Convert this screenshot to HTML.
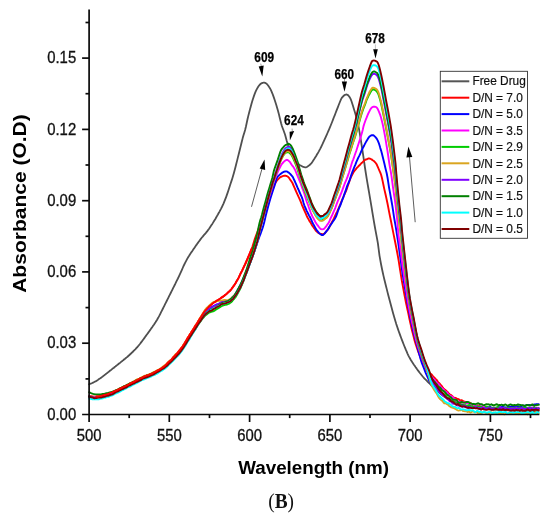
<!DOCTYPE html>
<html lang="en">
<head>
<meta charset="utf-8">
<title>Absorbance spectra (B)</title>
<style>
html,body{margin:0;padding:0;background:#fff;}
body{width:550px;height:522px;overflow:hidden;}
svg text{white-space:pre;}
</style>
</head>
<body>
<svg width="550" height="522" viewBox="0 0 550 522" style="display:block">
<rect width="550" height="522" fill="#fff"/>
<g fill="none" stroke-linejoin="round" stroke-linecap="round">
<path d="M89.1 384.3 L89.9 384.0 L90.7 383.7 L91.5 383.3 L92.3 383.0 L93.1 382.6 L93.9 382.2 L94.7 381.8 L95.5 381.4 L96.3 380.9 L97.1 380.4 L97.9 379.9 L98.7 379.3 L99.5 378.8 L100.3 378.3 L101.1 377.7 L101.9 377.1 L102.7 376.5 L103.5 375.9 L104.3 375.3 L105.1 374.6 L105.9 374.0 L106.7 373.4 L107.5 372.7 L108.3 372.1 L109.1 371.5 L109.9 370.8 L110.7 370.2 L111.5 369.6 L112.3 368.9 L113.1 368.3 L113.9 367.7 L114.7 367.0 L115.5 366.4 L116.3 365.7 L117.1 365.1 L117.9 364.5 L118.7 363.8 L119.5 363.2 L120.3 362.6 L121.1 361.9 L121.9 361.3 L122.7 360.6 L123.5 360.0 L124.3 359.3 L125.1 358.7 L125.9 358.0 L126.7 357.4 L127.5 356.7 L128.3 356.0 L129.1 355.3 L129.9 354.5 L130.7 353.8 L131.5 353.0 L132.3 352.3 L133.1 351.5 L133.9 350.7 L134.7 349.9 L135.5 349.1 L136.3 348.2 L137.1 347.3 L137.9 346.4 L138.7 345.5 L139.5 344.5 L140.3 343.5 L141.1 342.4 L141.9 341.4 L142.7 340.3 L143.5 339.2 L144.3 338.1 L145.1 337.0 L145.9 335.9 L146.7 334.8 L147.5 333.7 L148.3 332.6 L149.1 331.5 L149.9 330.4 L150.7 329.3 L151.5 328.1 L152.3 327.0 L153.1 325.8 L153.9 324.7 L154.7 323.5 L155.5 322.3 L156.3 321.0 L157.1 319.7 L157.9 318.3 L158.7 316.9 L159.5 315.4 L160.3 313.8 L161.1 312.2 L161.9 310.6 L162.7 309.0 L163.5 307.4 L164.3 305.8 L165.1 304.2 L165.9 302.6 L166.7 301.0 L167.5 299.4 L168.3 297.8 L169.1 296.2 L169.9 294.6 L170.7 293.0 L171.5 291.4 L172.3 289.8 L173.1 288.2 L173.9 286.6 L174.7 285.0 L175.5 283.4 L176.3 281.7 L177.1 280.1 L177.9 278.5 L178.7 276.8 L179.5 275.1 L180.3 273.4 L181.1 271.6 L181.9 269.8 L182.7 268.0 L183.5 266.2 L184.3 264.5 L185.1 262.9 L185.9 261.3 L186.7 259.8 L187.5 258.4 L188.3 257.0 L189.1 255.8 L189.9 254.5 L190.7 253.3 L191.5 252.1 L192.3 251.0 L193.1 249.8 L193.9 248.6 L194.7 247.5 L195.5 246.3 L196.3 245.1 L197.1 244.0 L197.9 242.9 L198.7 241.8 L199.5 240.7 L200.3 239.6 L201.1 238.5 L201.9 237.5 L202.7 236.6 L203.5 235.6 L204.3 234.7 L205.1 233.8 L205.9 232.9 L206.7 231.9 L207.5 230.9 L208.3 229.8 L209.1 228.7 L209.9 227.5 L210.7 226.3 L211.5 225.1 L212.3 223.9 L213.1 222.6 L213.9 221.3 L214.7 220.0 L215.5 218.7 L216.3 217.3 L217.1 215.9 L217.9 214.5 L218.7 213.0 L219.5 211.6 L220.3 210.1 L221.1 208.6 L221.9 207.0 L222.7 205.3 L223.5 203.6 L224.3 201.7 L225.1 199.7 L225.9 197.7 L226.7 195.4 L227.5 193.1 L228.3 190.7 L229.1 188.2 L229.9 185.8 L230.7 183.3 L231.5 180.9 L232.3 178.4 L233.1 175.8 L233.9 173.0 L234.7 170.1 L235.5 167.0 L236.3 163.8 L237.1 160.6 L237.9 157.4 L238.7 154.2 L239.5 151.0 L240.3 147.8 L241.1 144.5 L241.9 141.3 L242.7 138.1 L243.5 135.2 L244.3 132.7 L245.1 130.0 L245.9 126.7 L246.7 123.0 L247.5 119.3 L248.3 115.9 L249.1 112.7 L249.9 109.6 L250.7 106.7 L251.5 103.8 L252.3 101.1 L253.1 98.5 L253.9 96.1 L254.7 93.9 L255.5 91.9 L256.3 90.2 L257.1 88.6 L257.9 87.2 L258.7 86.0 L259.5 85.0 L260.3 84.2 L261.1 83.5 L261.9 83.1 L262.7 82.8 L263.5 82.7 L264.3 82.7 L265.1 82.9 L265.9 83.3 L266.7 83.9 L267.5 84.7 L268.3 85.7 L269.1 86.9 L269.9 88.2 L270.7 89.7 L271.5 91.4 L272.3 93.3 L273.1 95.4 L273.9 97.6 L274.7 100.0 L275.5 102.5 L276.3 105.0 L277.1 107.7 L277.9 110.5 L278.7 113.4 L279.5 116.7 L280.3 120.1 L281.1 123.3 L281.9 126.0 L282.7 128.2 L283.5 130.3 L284.3 132.5 L285.1 134.8 L285.9 137.7 L286.7 140.8 L287.5 143.6 L288.3 146.1 L289.1 148.4 L289.9 150.5 L290.7 152.4 L291.5 154.0 L292.3 155.6 L293.1 157.1 L293.9 158.4 L294.7 159.6 L295.5 160.7 L296.3 161.7 L297.1 162.6 L297.9 163.5 L298.7 164.3 L299.5 164.9 L300.3 165.4 L301.1 165.8 L301.9 166.2 L302.7 166.6 L303.5 166.9 L304.3 167.2 L305.1 167.3 L305.9 167.3 L306.7 167.0 L307.5 166.6 L308.3 166.1 L309.1 165.4 L309.9 164.7 L310.7 164.0 L311.5 163.1 L312.3 162.0 L313.1 160.8 L313.9 159.6 L314.7 158.3 L315.5 157.0 L316.3 155.7 L317.1 154.3 L317.9 153.0 L318.7 151.6 L319.5 150.1 L320.3 148.6 L321.1 147.0 L321.9 145.3 L322.7 143.7 L323.5 141.9 L324.3 140.2 L325.1 138.4 L325.9 136.6 L326.7 134.8 L327.5 133.0 L328.3 131.1 L329.1 129.3 L329.9 127.4 L330.7 125.5 L331.5 123.5 L332.3 121.5 L333.1 119.4 L333.9 117.3 L334.7 115.3 L335.5 113.2 L336.3 111.2 L337.1 109.1 L337.9 107.1 L338.7 105.0 L339.5 103.0 L340.3 101.0 L341.1 99.1 L341.9 97.7 L342.7 96.8 L343.5 96.0 L344.3 95.3 L345.1 94.8 L345.9 94.6 L346.7 94.5 L347.5 94.8 L348.3 95.5 L349.1 96.4 L349.9 97.6 L350.7 99.1 L351.5 101.2 L352.3 103.7 L353.1 106.3 L353.9 108.9 L354.7 111.6 L355.5 114.2 L356.3 116.9 L357.1 119.7 L357.9 123.1 L358.7 127.3 L359.5 131.9 L360.3 136.7 L361.1 141.7 L361.9 146.8 L362.7 152.0 L363.5 157.4 L364.3 163.0 L365.1 168.5 L365.9 173.7 L366.7 178.6 L367.5 183.3 L368.3 188.0 L369.1 192.6 L369.9 197.3 L370.7 202.1 L371.5 206.9 L372.3 211.8 L373.1 216.6 L373.9 221.4 L374.7 226.0 L375.5 230.4 L376.3 234.6 L377.1 238.9 L377.9 243.4 L378.7 249.5 L379.5 255.6 L380.3 260.2 L381.1 264.5 L381.9 268.5 L382.7 272.3 L383.5 275.9 L384.3 279.2 L385.1 282.5 L385.9 285.7 L386.7 288.9 L387.5 292.1 L388.3 295.2 L389.1 298.3 L389.9 301.3 L390.7 304.3 L391.5 307.3 L392.3 310.3 L393.1 313.2 L393.9 316.0 L394.7 318.8 L395.5 321.5 L396.3 324.1 L397.1 326.5 L397.9 328.9 L398.7 331.2 L399.5 333.4 L400.3 335.6 L401.1 337.8 L401.9 339.9 L402.7 341.9 L403.5 344.0 L404.3 346.0 L405.1 347.9 L405.9 349.9 L406.7 351.7 L407.5 353.6 L408.3 355.3 L409.1 356.9 L409.9 358.3 L410.7 359.7 L411.5 361.0 L412.3 362.3 L413.1 363.5 L413.9 364.7 L414.7 365.8 L415.5 367.0 L416.3 368.1 L417.1 369.3 L417.9 370.4 L418.7 371.4 L419.5 372.5 L420.3 373.5 L421.1 374.5 L421.9 375.5 L422.7 376.5 L423.5 377.4 L424.3 378.3 L425.1 379.1 L425.9 379.9 L426.7 380.7 L427.5 381.5 L428.3 382.3 L429.1 383.1 L429.9 383.9 L430.7 384.7 L431.5 385.5 L432.3 386.2 L433.1 387.0 L433.9 387.7 L434.7 388.5 L435.5 389.2 L436.3 389.9 L437.1 390.7 L437.9 391.4 L438.7 392.1 L439.5 392.8 L440.3 393.5 L441.1 394.2 L441.9 394.9 L442.7 395.5 L443.5 396.1 L444.3 396.7 L445.1 397.2 L445.9 397.8 L446.7 398.3 L447.5 398.7 L448.3 399.2 L449.1 399.6 L449.9 400.0 L450.7 400.3 L451.5 400.7 L452.3 401.0 L453.1 401.3 L453.9 401.6 L454.7 401.9 L455.5 402.2 L456.3 402.5 L457.1 402.7 L457.9 403.0 L458.7 403.3 L459.5 403.5 L460.3 403.8 L461.1 404.0 L461.9 404.3 L462.7 404.5 L463.5 404.8 L464.3 405.0 L465.1 405.2 L465.9 405.5 L466.7 405.7 L467.5 405.9 L468.3 406.1 L469.1 406.3 L469.9 406.5 L470.7 406.6 L471.5 406.8 L472.3 406.9 L473.1 407.1 L473.9 407.2 L474.7 407.4 L475.5 407.5 L476.3 407.7 L477.1 407.8 L477.9 407.9 L478.7 408.0 L479.5 408.2 L480.3 408.3 L481.1 408.4 L481.9 408.5 L482.7 408.6 L483.5 408.7 L484.3 408.8 L485.1 408.9 L485.9 409.0 L486.7 409.1 L487.5 409.2 L488.3 409.2 L489.1 409.3 L489.9 409.4 L490.7 409.4 L491.5 409.5 L492.3 409.5 L493.1 409.6 L493.9 409.7 L494.7 409.7 L495.5 409.8 L496.3 409.8 L497.1 409.9 L497.9 409.9 L498.7 410.0 L499.5 410.0 L500.3 410.1 L501.1 410.1 L501.9 410.2 L502.7 410.2 L503.5 410.2 L504.3 410.3 L505.1 410.3 L505.9 410.4 L506.7 410.4 L507.5 410.4 L508.3 410.4 L509.1 410.5 L509.9 410.5 L510.7 410.5 L511.5 410.5 L512.3 410.6 L513.1 410.6 L513.9 410.6 L514.7 410.6 L515.5 410.7 L516.3 410.7 L517.1 410.7 L517.9 410.7 L518.7 410.7 L519.5 410.8 L520.3 410.8 L521.1 410.8 L521.9 410.8 L522.7 410.8 L523.5 410.8 L524.3 410.9 L525.1 410.9 L525.9 410.9 L526.7 410.9 L527.5 410.9 L528.3 410.9 L529.1 410.9 L529.9 411.0 L530.7 411.0 L531.5 411.0 L532.3 411.0 L533.1 411.0 L533.9 411.0 L534.7 411.0 L535.5 411.0 L536.3 411.0 L537.1 411.0 L537.9 411.0 L538.7 411.0" stroke="#505050" stroke-width="1.8"/>
<path d="M89.1 396.0 L89.9 396.2 L90.7 396.3 L91.5 396.3 L92.3 396.4 L93.1 396.5 L93.9 396.6 L94.7 396.7 L95.5 396.6 L96.3 396.5 L97.1 396.5 L97.9 396.5 L98.7 396.3 L99.5 396.1 L100.3 396.1 L101.1 395.9 L101.9 395.6 L102.7 395.4 L103.5 395.1 L104.3 394.9 L105.1 394.7 L105.9 394.6 L106.7 394.4 L107.5 394.2 L108.3 394.0 L109.1 393.5 L109.9 393.1 L110.7 392.9 L111.5 392.7 L112.3 392.4 L113.1 391.9 L113.9 391.5 L114.7 391.1 L115.5 390.8 L116.3 390.5 L117.1 390.1 L117.9 389.7 L118.7 389.4 L119.5 388.9 L120.3 388.5 L121.1 388.2 L121.9 387.7 L122.7 387.2 L123.5 387.0 L124.3 386.6 L125.1 386.1 L125.9 385.8 L126.7 385.4 L127.5 385.0 L128.3 384.8 L129.1 384.3 L129.9 383.7 L130.7 383.3 L131.5 383.0 L132.3 382.6 L133.1 382.2 L133.9 381.8 L134.7 381.5 L135.5 381.1 L136.3 380.5 L137.1 380.1 L137.9 379.7 L138.7 379.2 L139.5 378.7 L140.3 378.4 L141.1 378.1 L141.9 377.9 L142.7 377.4 L143.5 376.8 L144.3 376.5 L145.1 376.2 L145.9 375.8 L146.7 375.5 L147.5 375.4 L148.3 375.3 L149.1 374.9 L149.9 374.4 L150.7 374.0 L151.5 373.8 L152.3 373.5 L153.1 373.0 L153.9 372.5 L154.7 372.1 L155.5 371.7 L156.3 371.2 L157.1 370.7 L157.9 370.3 L158.7 369.9 L159.5 369.6 L160.3 369.1 L161.1 368.5 L161.9 368.0 L162.7 367.4 L163.5 366.9 L164.3 366.3 L165.1 365.6 L165.9 364.8 L166.7 364.1 L167.5 363.2 L168.3 362.3 L169.1 361.7 L169.9 360.9 L170.7 360.3 L171.5 359.6 L172.3 358.5 L173.1 357.5 L173.9 356.8 L174.7 356.0 L175.5 355.1 L176.3 354.2 L177.1 353.4 L177.9 352.5 L178.7 351.4 L179.5 350.4 L180.3 349.4 L181.1 348.3 L181.9 347.3 L182.7 346.2 L183.5 345.0 L184.3 343.8 L185.1 342.4 L185.9 341.0 L186.7 339.7 L187.5 338.2 L188.3 337.0 L189.1 335.8 L189.9 334.4 L190.7 333.2 L191.5 331.9 L192.3 330.7 L193.1 329.5 L193.9 328.3 L194.7 326.9 L195.5 325.6 L196.3 324.5 L197.1 323.4 L197.9 321.9 L198.7 320.6 L199.5 319.3 L200.3 318.0 L201.1 316.9 L201.9 315.6 L202.7 314.3 L203.5 313.0 L204.3 311.8 L205.1 310.8 L205.9 309.9 L206.7 309.1 L207.5 308.2 L208.3 307.4 L209.1 306.5 L209.9 305.8 L210.7 305.1 L211.5 304.5 L212.3 303.8 L213.1 303.1 L213.9 302.5 L214.7 302.0 L215.5 301.7 L216.3 301.0 L217.1 300.4 L217.9 300.2 L218.7 299.7 L219.5 299.0 L220.3 298.5 L221.1 297.9 L221.9 297.4 L222.7 296.9 L223.5 296.4 L224.3 295.7 L225.1 295.0 L225.9 294.4 L226.7 293.7 L227.5 293.0 L228.3 292.2 L229.1 291.5 L229.9 290.9 L230.7 290.0 L231.5 289.0 L232.3 287.9 L233.1 286.8 L233.9 285.6 L234.7 284.5 L235.5 283.2 L236.3 281.8 L237.1 280.4 L237.9 279.1 L238.7 277.6 L239.5 275.9 L240.3 274.2 L241.1 272.5 L241.9 271.1 L242.7 269.4 L243.5 267.7 L244.3 265.9 L245.1 264.3 L245.9 262.5 L246.7 260.7 L247.5 258.8 L248.3 256.9 L249.1 255.0 L249.9 253.1 L250.7 251.2 L251.5 249.2 L252.3 247.1 L253.1 244.6 L253.9 241.9 L254.7 239.3 L255.5 237.1 L256.3 234.8 L257.1 232.8 L257.9 230.7 L258.7 228.4 L259.5 226.3 L260.3 224.4 L261.1 222.4 L261.9 220.3 L262.7 218.2 L263.5 216.0 L264.3 213.8 L265.1 211.8 L265.9 209.6 L266.7 207.5 L267.5 205.4 L268.3 203.2 L269.1 200.7 L269.9 198.1 L270.7 195.5 L271.5 193.0 L272.3 190.5 L273.1 188.1 L273.9 185.9 L274.7 184.2 L275.5 182.8 L276.3 181.5 L277.1 180.3 L277.9 179.4 L278.7 178.7 L279.5 177.9 L280.3 177.2 L281.1 176.8 L281.9 176.5 L282.7 176.1 L283.5 175.8 L284.3 175.6 L285.1 175.7 L285.9 175.8 L286.7 176.0 L287.5 176.5 L288.3 177.1 L289.1 177.9 L289.9 179.2 L290.7 180.4 L291.5 181.5 L292.3 182.7 L293.1 184.5 L293.9 186.4 L294.7 188.2 L295.5 190.0 L296.3 191.8 L297.1 193.6 L297.9 195.4 L298.7 197.2 L299.5 198.8 L300.3 200.6 L301.1 202.6 L301.9 204.8 L302.7 206.7 L303.5 208.5 L304.3 210.4 L305.1 212.2 L305.9 213.9 L306.7 215.9 L307.5 217.5 L308.3 218.9 L309.1 220.4 L309.9 221.6 L310.7 222.8 L311.5 224.3 L312.3 225.7 L313.1 226.8 L313.9 227.9 L314.7 229.0 L315.5 230.1 L316.3 231.2 L317.1 231.9 L317.9 232.6 L318.7 233.2 L319.5 233.5 L320.3 233.6 L321.1 233.8 L321.9 234.2 L322.7 234.3 L323.5 234.0 L324.3 233.5 L325.1 232.8 L325.9 231.9 L326.7 230.9 L327.5 229.8 L328.3 228.8 L329.1 227.6 L329.9 226.1 L330.7 224.5 L331.5 222.9 L332.3 221.4 L333.1 220.0 L333.9 218.4 L334.7 216.6 L335.5 214.8 L336.3 213.1 L337.1 211.6 L337.9 210.0 L338.7 208.1 L339.5 206.2 L340.3 204.3 L341.1 202.4 L341.9 200.4 L342.7 198.5 L343.5 196.7 L344.3 194.9 L345.1 193.0 L345.9 191.3 L346.7 189.2 L347.5 186.8 L348.3 184.4 L349.1 182.2 L349.9 180.0 L350.7 177.8 L351.5 176.1 L352.3 174.5 L353.1 173.0 L353.9 171.6 L354.7 170.5 L355.5 169.6 L356.3 168.6 L357.1 167.7 L357.9 166.9 L358.7 166.0 L359.5 165.2 L360.3 164.5 L361.1 163.5 L361.9 162.8 L362.7 162.1 L363.5 161.2 L364.3 160.4 L365.1 159.8 L365.9 159.5 L366.7 159.3 L367.5 158.9 L368.3 158.5 L369.1 158.4 L369.9 158.6 L370.7 159.0 L371.5 159.4 L372.3 159.9 L373.1 160.5 L373.9 161.0 L374.7 161.8 L375.5 162.7 L376.3 163.8 L377.1 165.3 L377.9 167.1 L378.7 169.0 L379.5 170.8 L380.3 172.6 L381.1 174.8 L381.9 177.8 L382.7 181.4 L383.5 185.3 L384.3 189.1 L385.1 192.5 L385.9 196.0 L386.7 199.7 L387.5 203.5 L388.3 207.6 L389.1 211.9 L389.9 215.9 L390.7 219.8 L391.5 223.8 L392.3 227.9 L393.1 231.9 L393.9 235.9 L394.7 239.8 L395.5 243.8 L396.3 247.9 L397.1 252.0 L397.9 256.3 L398.7 260.9 L399.5 266.0 L400.3 271.1 L401.1 276.1 L401.9 281.0 L402.7 285.3 L403.5 289.7 L404.3 294.0 L405.1 298.1 L405.9 302.2 L406.7 306.0 L407.5 309.7 L408.3 313.4 L409.1 317.3 L409.9 321.0 L410.7 324.6 L411.5 328.2 L412.3 331.5 L413.1 334.6 L413.9 337.8 L414.7 340.9 L415.5 343.6 L416.3 346.0 L417.1 348.4 L417.9 350.8 L418.7 352.9 L419.5 354.9 L420.3 356.9 L421.1 359.1 L421.9 361.2 L422.7 363.1 L423.5 364.9 L424.3 366.6 L425.1 368.1 L425.9 369.3 L426.7 370.6 L427.5 371.8 L428.3 372.7 L429.1 373.5 L429.9 373.8 L430.7 373.8 L431.5 374.3 L432.3 375.3 L433.1 376.3 L433.9 377.2 L434.7 378.0 L435.5 378.8 L436.3 379.6 L437.1 380.5 L437.9 381.8 L438.7 382.8 L439.5 383.5 L440.3 384.4 L441.1 385.3 L441.9 386.2 L442.7 387.3 L443.5 388.3 L444.3 389.2 L445.1 389.8 L445.9 390.5 L446.7 391.2 L447.5 391.9 L448.3 392.9 L449.1 393.7 L449.9 394.5 L450.7 394.9 L451.5 395.3 L452.3 396.1 L453.1 397.0 L453.9 397.6 L454.7 397.8 L455.5 397.9 L456.3 398.3 L457.1 399.0 L457.9 399.0 L458.7 399.1 L459.5 400.1 L460.3 400.7 L461.1 400.3 L461.9 400.3 L462.7 400.8 L463.5 401.2 L464.3 401.7 L465.1 401.8 L465.9 402.1 L466.7 402.6 L467.5 402.8 L468.3 403.0 L469.1 402.9 L469.9 402.7 L470.7 403.3 L471.5 404.4 L472.3 404.7 L473.1 404.7 L473.9 405.0 L474.7 405.3 L475.5 405.9 L476.3 406.3 L477.1 405.7 L477.9 405.3 L478.7 405.6 L479.5 406.1 L480.3 407.0 L481.1 407.3 L481.9 406.8 L482.7 406.6 L483.5 407.4 L484.3 407.6 L485.1 407.2 L485.9 407.5 L486.7 408.0 L487.5 408.2 L488.3 408.0 L489.1 407.8 L489.9 407.6 L490.7 408.1 L491.5 409.0 L492.3 409.0 L493.1 408.4 L493.9 407.9 L494.7 407.8 L495.5 408.2 L496.3 408.7 L497.1 408.7 L497.9 408.6 L498.7 408.4 L499.5 408.7 L500.3 409.1 L501.1 409.8 L501.9 409.9 L502.7 409.2 L503.5 408.7 L504.3 408.8 L505.1 408.7 L505.9 408.7 L506.7 408.8 L507.5 408.9 L508.3 409.2 L509.1 409.3 L509.9 409.2 L510.7 409.1 L511.5 408.8 L512.3 408.7 L513.1 408.9 L513.9 409.1 L514.7 409.2 L515.5 409.0 L516.3 408.8 L517.1 408.8 L517.9 408.7 L518.7 408.7 L519.5 408.7 L520.3 408.5 L521.1 409.0 L521.9 409.3 L522.7 409.2 L523.5 409.0 L524.3 408.9 L525.1 408.8 L525.9 408.9 L526.7 409.0 L527.5 409.0 L528.3 408.9 L529.1 409.2 L529.9 409.3 L530.7 409.2 L531.5 409.2 L532.3 409.1 L533.1 408.8 L533.9 409.2 L534.7 409.5 L535.5 409.4 L536.3 409.3 L537.1 409.0 L537.9 409.1 L538.7 409.4" stroke="#ff0000" stroke-width="1.9"/>
<path d="M89.1 396.7 L89.9 396.8 L90.7 396.9 L91.5 397.3 L92.3 397.6 L93.1 397.6 L93.9 397.5 L94.7 397.4 L95.5 397.5 L96.3 397.4 L97.1 397.2 L97.9 397.2 L98.7 397.1 L99.5 396.9 L100.3 397.0 L101.1 397.0 L101.9 396.8 L102.7 396.7 L103.5 396.7 L104.3 396.5 L105.1 396.1 L105.9 395.7 L106.7 395.3 L107.5 395.2 L108.3 395.0 L109.1 394.8 L109.9 394.5 L110.7 394.2 L111.5 393.8 L112.3 393.5 L113.1 393.3 L113.9 392.9 L114.7 392.5 L115.5 392.1 L116.3 391.6 L117.1 391.2 L117.9 390.6 L118.7 390.2 L119.5 390.0 L120.3 389.6 L121.1 389.1 L121.9 388.6 L122.7 388.2 L123.5 387.9 L124.3 387.3 L125.1 386.9 L125.9 386.7 L126.7 386.5 L127.5 386.0 L128.3 385.5 L129.1 385.2 L129.9 384.7 L130.7 384.1 L131.5 383.8 L132.3 383.6 L133.1 383.3 L133.9 383.0 L134.7 382.6 L135.5 382.0 L136.3 381.6 L137.1 381.2 L137.9 380.7 L138.7 380.3 L139.5 380.1 L140.3 379.8 L141.1 379.2 L141.9 378.7 L142.7 378.4 L143.5 378.1 L144.3 377.8 L145.1 377.4 L145.9 376.9 L146.7 376.6 L147.5 376.4 L148.3 376.2 L149.1 375.9 L149.9 375.3 L150.7 375.0 L151.5 374.7 L152.3 374.2 L153.1 373.8 L153.9 373.6 L154.7 373.3 L155.5 372.7 L156.3 372.3 L157.1 371.9 L157.9 371.5 L158.7 371.0 L159.5 370.4 L160.3 369.8 L161.1 369.4 L161.9 368.9 L162.7 368.5 L163.5 367.9 L164.3 367.2 L165.1 366.6 L165.9 366.0 L166.7 365.3 L167.5 364.5 L168.3 363.7 L169.1 363.2 L169.9 362.6 L170.7 361.7 L171.5 360.6 L172.3 359.7 L173.1 359.0 L173.9 358.0 L174.7 357.0 L175.5 356.3 L176.3 355.4 L177.1 354.4 L177.9 353.4 L178.7 352.5 L179.5 351.8 L180.3 350.8 L181.1 349.7 L181.9 348.7 L182.7 347.6 L183.5 346.3 L184.3 345.1 L185.1 343.7 L185.9 342.4 L186.7 341.1 L187.5 340.0 L188.3 338.6 L189.1 337.2 L189.9 335.9 L190.7 334.8 L191.5 333.5 L192.3 332.0 L193.1 330.7 L193.9 329.7 L194.7 328.7 L195.5 327.4 L196.3 326.0 L197.1 324.8 L197.9 323.6 L198.7 322.2 L199.5 320.9 L200.3 319.8 L201.1 318.6 L201.9 317.3 L202.7 316.2 L203.5 315.2 L204.3 314.2 L205.1 313.0 L205.9 311.9 L206.7 311.0 L207.5 310.3 L208.3 309.7 L209.1 309.1 L209.9 308.5 L210.7 307.8 L211.5 307.2 L212.3 306.8 L213.1 306.4 L213.9 305.9 L214.7 305.5 L215.5 305.0 L216.3 304.7 L217.1 304.5 L217.9 304.3 L218.7 304.0 L219.5 303.7 L220.3 303.1 L221.1 302.5 L221.9 302.2 L222.7 302.0 L223.5 301.8 L224.3 301.6 L225.1 301.4 L225.9 301.3 L226.7 301.1 L227.5 301.0 L228.3 300.7 L229.1 300.3 L229.9 299.8 L230.7 299.1 L231.5 298.3 L232.3 297.5 L233.1 296.8 L233.9 296.1 L234.7 295.0 L235.5 293.7 L236.3 292.3 L237.1 290.8 L237.9 289.5 L238.7 288.1 L239.5 286.5 L240.3 285.0 L241.1 283.4 L241.9 281.8 L242.7 280.0 L243.5 278.2 L244.3 276.5 L245.1 274.8 L245.9 272.8 L246.7 270.8 L247.5 269.0 L248.3 267.0 L249.1 264.8 L249.9 262.9 L250.7 261.0 L251.5 258.9 L252.3 256.9 L253.1 254.8 L253.9 252.4 L254.7 250.1 L255.5 247.9 L256.3 245.7 L257.1 243.3 L257.9 240.9 L258.7 238.7 L259.5 236.5 L260.3 234.5 L261.1 232.2 L261.9 229.9 L262.7 227.7 L263.5 225.0 L264.3 221.9 L265.1 218.6 L265.9 215.1 L266.7 211.9 L267.5 209.0 L268.3 206.1 L269.1 203.1 L269.9 200.3 L270.7 197.5 L271.5 195.0 L272.3 192.5 L273.1 190.0 L273.9 187.8 L274.7 185.2 L275.5 182.3 L276.3 179.6 L277.1 177.5 L277.9 176.4 L278.7 175.6 L279.5 174.9 L280.3 174.2 L281.1 173.5 L281.9 172.9 L282.7 172.4 L283.5 172.0 L284.3 171.7 L285.1 171.5 L285.9 171.4 L286.7 171.4 L287.5 171.8 L288.3 172.4 L289.1 172.9 L289.9 173.6 L290.7 174.5 L291.5 175.4 L292.3 176.3 L293.1 177.6 L293.9 179.3 L294.7 181.0 L295.5 182.8 L296.3 184.6 L297.1 186.6 L297.9 188.5 L298.7 190.2 L299.5 192.0 L300.3 193.9 L301.1 195.7 L301.9 197.4 L302.7 199.8 L303.5 202.8 L304.3 205.3 L305.1 207.2 L305.9 209.0 L306.7 210.8 L307.5 212.4 L308.3 214.0 L309.1 215.6 L309.9 217.0 L310.7 218.6 L311.5 220.4 L312.3 222.2 L313.1 223.7 L313.9 225.1 L314.7 226.7 L315.5 228.3 L316.3 229.6 L317.1 230.6 L317.9 231.6 L318.7 232.6 L319.5 233.4 L320.3 234.1 L321.1 234.7 L321.9 235.1 L322.7 235.1 L323.5 234.6 L324.3 233.9 L325.1 233.0 L325.9 231.9 L326.7 230.9 L327.5 230.1 L328.3 228.8 L329.1 227.3 L329.9 226.0 L330.7 224.8 L331.5 223.7 L332.3 222.5 L333.1 221.3 L333.9 220.2 L334.7 219.0 L335.5 217.6 L336.3 215.8 L337.1 213.7 L337.9 211.3 L338.7 209.0 L339.5 207.2 L340.3 205.3 L341.1 203.2 L341.9 201.0 L342.7 198.9 L343.5 196.8 L344.3 194.4 L345.1 192.1 L345.9 189.9 L346.7 187.4 L347.5 185.1 L348.3 183.3 L349.1 181.5 L349.9 179.4 L350.7 176.8 L351.5 174.3 L352.3 172.2 L353.1 170.2 L353.9 168.1 L354.7 166.2 L355.5 164.3 L356.3 162.2 L357.1 160.3 L357.9 158.5 L358.7 156.9 L359.5 155.4 L360.3 153.6 L361.1 151.7 L361.9 149.9 L362.7 148.2 L363.5 146.7 L364.3 145.2 L365.1 143.6 L365.9 142.1 L366.7 140.7 L367.5 139.4 L368.3 138.1 L369.1 137.0 L369.9 136.2 L370.7 135.7 L371.5 135.3 L372.3 135.2 L373.1 135.2 L373.9 135.6 L374.7 136.4 L375.5 137.2 L376.3 138.1 L377.1 139.3 L377.9 140.9 L378.7 142.8 L379.5 145.3 L380.3 148.1 L381.1 150.6 L381.9 153.5 L382.7 156.7 L383.5 160.0 L384.3 163.3 L385.1 166.8 L385.9 170.1 L386.7 173.3 L387.5 177.5 L388.3 182.7 L389.1 187.8 L389.9 192.2 L390.7 196.6 L391.5 201.0 L392.3 205.6 L393.1 210.9 L393.9 216.3 L394.7 221.0 L395.5 225.3 L396.3 230.4 L397.1 235.5 L397.9 240.6 L398.7 246.2 L399.5 252.0 L400.3 257.5 L401.1 263.0 L401.9 269.2 L402.7 274.5 L403.5 279.4 L404.3 284.1 L405.1 288.9 L405.9 293.7 L406.7 298.5 L407.5 303.0 L408.3 307.1 L409.1 311.4 L409.9 315.6 L410.7 319.6 L411.5 323.2 L412.3 326.7 L413.1 330.2 L413.9 333.5 L414.7 336.8 L415.5 339.7 L416.3 342.5 L417.1 345.5 L417.9 348.7 L418.7 352.0 L419.5 355.1 L420.3 358.1 L421.1 360.8 L421.9 363.2 L422.7 365.2 L423.5 367.1 L424.3 369.2 L425.1 371.4 L425.9 373.3 L426.7 375.1 L427.5 376.9 L428.3 378.7 L429.1 380.4 L429.9 382.1 L430.7 383.2 L431.5 383.8 L432.3 384.5 L433.1 385.3 L433.9 385.8 L434.7 386.4 L435.5 387.2 L436.3 387.8 L437.1 388.4 L437.9 389.1 L438.7 390.1 L439.5 391.0 L440.3 392.0 L441.1 393.2 L441.9 394.1 L442.7 394.9 L443.5 395.4 L444.3 395.7 L445.1 396.3 L445.9 397.2 L446.7 397.9 L447.5 398.5 L448.3 398.8 L449.1 399.1 L449.9 399.7 L450.7 400.3 L451.5 401.1 L452.3 401.7 L453.1 402.1 L453.9 402.8 L454.7 403.2 L455.5 403.0 L456.3 403.1 L457.1 403.4 L457.9 403.7 L458.7 404.6 L459.5 405.5 L460.3 405.5 L461.1 405.5 L461.9 405.5 L462.7 405.8 L463.5 406.1 L464.3 406.3 L465.1 406.9 L465.9 407.3 L466.7 407.1 L467.5 406.7 L468.3 406.6 L469.1 406.9 L469.9 407.2 L470.7 407.3 L471.5 407.6 L472.3 407.5 L473.1 406.9 L473.9 407.1 L474.7 407.7 L475.5 407.4 L476.3 407.2 L477.1 407.2 L477.9 407.2 L478.7 408.0 L479.5 408.9 L480.3 408.5 L481.1 407.5 L481.9 407.3 L482.7 407.8 L483.5 408.1 L484.3 407.7 L485.1 407.7 L485.9 408.3 L486.7 408.4 L487.5 407.8 L488.3 407.2 L489.1 407.1 L489.9 407.0 L490.7 407.2 L491.5 407.7 L492.3 407.9 L493.1 408.3 L493.9 408.9 L494.7 408.4 L495.5 407.8 L496.3 408.1 L497.1 408.2 L497.9 407.5 L498.7 407.2 L499.5 407.2 L500.3 407.3 L501.1 407.4 L501.9 406.8 L502.7 406.6 L503.5 407.1 L504.3 407.3 L505.1 407.4 L505.9 407.4 L506.7 407.4 L507.5 407.2 L508.3 406.6 L509.1 406.6 L509.9 406.8 L510.7 406.9 L511.5 406.8 L512.3 406.4 L513.1 406.5 L513.9 406.9 L514.7 406.8 L515.5 406.8 L516.3 407.5 L517.1 407.4 L517.9 406.3 L518.7 406.6 L519.5 407.3 L520.3 406.9 L521.1 406.2 L521.9 405.9 L522.7 405.6 L523.5 405.6 L524.3 405.6 L525.1 405.8 L525.9 405.5 L526.7 405.0 L527.5 404.9 L528.3 404.9 L529.1 404.9 L529.9 405.1 L530.7 405.4 L531.5 405.3 L532.3 405.1 L533.1 405.0 L533.9 404.7 L534.7 404.4 L535.5 404.4 L536.3 404.3 L537.1 404.2 L537.9 404.4 L538.7 404.2" stroke="#0000ff" stroke-width="1.9"/>
<path d="M89.1 396.6 L89.9 396.8 L90.7 397.1 L91.5 397.3 L92.3 397.4 L93.1 397.5 L93.9 397.4 L94.7 397.2 L95.5 397.2 L96.3 397.2 L97.1 397.4 L97.9 397.5 L98.7 397.3 L99.5 397.0 L100.3 397.0 L101.1 397.1 L101.9 396.9 L102.7 396.7 L103.5 396.7 L104.3 396.6 L105.1 396.3 L105.9 395.9 L106.7 395.6 L107.5 395.3 L108.3 394.9 L109.1 394.5 L109.9 394.3 L110.7 394.0 L111.5 393.7 L112.3 393.6 L113.1 393.3 L113.9 392.7 L114.7 392.2 L115.5 391.9 L116.3 391.6 L117.1 391.2 L117.9 390.7 L118.7 390.1 L119.5 389.7 L120.3 389.4 L121.1 389.1 L121.9 388.7 L122.7 388.2 L123.5 387.8 L124.3 387.5 L125.1 387.1 L125.9 386.7 L126.7 386.1 L127.5 385.6 L128.3 385.4 L129.1 385.1 L129.9 384.5 L130.7 384.1 L131.5 383.9 L132.3 383.4 L133.1 382.9 L133.9 382.6 L134.7 382.2 L135.5 381.7 L136.3 381.2 L137.1 380.9 L137.9 380.5 L138.7 380.1 L139.5 379.9 L140.3 379.6 L141.1 379.1 L141.9 378.7 L142.7 378.4 L143.5 378.1 L144.3 377.8 L145.1 377.4 L145.9 376.9 L146.7 376.6 L147.5 376.3 L148.3 375.9 L149.1 375.6 L149.9 375.3 L150.7 374.9 L151.5 374.4 L152.3 374.1 L153.1 373.9 L153.9 373.6 L154.7 373.2 L155.5 372.6 L156.3 372.1 L157.1 371.6 L157.9 371.3 L158.7 370.9 L159.5 370.5 L160.3 370.1 L161.1 369.4 L161.9 368.6 L162.7 368.1 L163.5 367.5 L164.3 367.0 L165.1 366.6 L165.9 365.9 L166.7 365.1 L167.5 364.5 L168.3 363.8 L169.1 362.9 L169.9 361.9 L170.7 361.2 L171.5 360.4 L172.3 359.7 L173.1 359.0 L173.9 358.2 L174.7 357.3 L175.5 356.5 L176.3 355.4 L177.1 354.4 L177.9 353.5 L178.7 352.7 L179.5 351.8 L180.3 350.8 L181.1 349.7 L181.9 348.6 L182.7 347.6 L183.5 346.4 L184.3 345.1 L185.1 343.9 L185.9 342.6 L186.7 341.1 L187.5 339.6 L188.3 338.3 L189.1 337.1 L189.9 335.9 L190.7 334.8 L191.5 333.6 L192.3 332.2 L193.1 330.9 L193.9 329.8 L194.7 328.4 L195.5 327.1 L196.3 325.9 L197.1 324.7 L197.9 323.4 L198.7 322.2 L199.5 320.9 L200.3 319.7 L201.1 318.6 L201.9 317.5 L202.7 316.3 L203.5 315.2 L204.3 314.2 L205.1 313.4 L205.9 312.4 L206.7 311.5 L207.5 310.8 L208.3 310.1 L209.1 309.6 L209.9 309.2 L210.7 308.7 L211.5 308.0 L212.3 307.5 L213.1 307.1 L213.9 306.8 L214.7 306.5 L215.5 306.1 L216.3 305.7 L217.1 305.4 L217.9 305.0 L218.7 304.4 L219.5 303.8 L220.3 303.4 L221.1 303.2 L221.9 303.0 L222.7 302.8 L223.5 302.6 L224.3 302.5 L225.1 302.4 L225.9 302.2 L226.7 301.8 L227.5 301.5 L228.3 301.2 L229.1 300.9 L229.9 300.3 L230.7 299.8 L231.5 299.2 L232.3 298.2 L233.1 297.3 L233.9 296.4 L234.7 295.4 L235.5 294.4 L236.3 293.1 L237.1 291.8 L237.9 290.3 L238.7 288.9 L239.5 287.4 L240.3 285.8 L241.1 284.0 L241.9 281.9 L242.7 280.2 L243.5 278.5 L244.3 276.6 L245.1 274.5 L245.9 272.3 L246.7 270.1 L247.5 268.2 L248.3 266.2 L249.1 263.8 L249.9 261.4 L250.7 259.1 L251.5 257.2 L252.3 255.1 L253.1 252.6 L253.9 250.1 L254.7 247.4 L255.5 244.8 L256.3 242.1 L257.1 239.2 L257.9 236.1 L258.7 233.0 L259.5 229.9 L260.3 226.9 L261.1 224.0 L261.9 221.1 L262.7 218.3 L263.5 215.7 L264.3 213.0 L265.1 210.2 L265.9 207.6 L266.7 204.9 L267.5 202.2 L268.3 199.5 L269.1 196.9 L269.9 194.4 L270.7 192.0 L271.5 189.4 L272.3 186.5 L273.1 184.0 L273.9 181.8 L274.7 179.5 L275.5 177.5 L276.3 175.6 L277.1 173.6 L277.9 171.6 L278.7 169.9 L279.5 168.4 L280.3 166.8 L281.1 165.1 L281.9 163.9 L282.7 163.0 L283.5 162.1 L284.3 161.3 L285.1 160.7 L285.9 160.2 L286.7 159.8 L287.5 160.0 L288.3 160.6 L289.1 161.2 L289.9 161.9 L290.7 163.2 L291.5 164.5 L292.3 165.6 L293.1 166.5 L293.9 167.8 L294.7 169.2 L295.5 170.9 L296.3 172.9 L297.1 174.8 L297.9 176.6 L298.7 178.6 L299.5 180.7 L300.3 182.5 L301.1 184.7 L301.9 187.1 L302.7 189.2 L303.5 191.2 L304.3 193.5 L305.1 196.3 L305.9 199.0 L306.7 201.5 L307.5 203.6 L308.3 205.8 L309.1 208.1 L309.9 210.2 L310.7 212.5 L311.5 214.5 L312.3 216.2 L313.1 217.6 L313.9 219.2 L314.7 220.8 L315.5 222.2 L316.3 223.5 L317.1 224.6 L317.9 225.6 L318.7 226.7 L319.5 227.8 L320.3 228.6 L321.1 229.1 L321.9 229.3 L322.7 229.4 L323.5 229.2 L324.3 228.5 L325.1 227.7 L325.9 226.7 L326.7 225.5 L327.5 224.4 L328.3 223.4 L329.1 222.0 L329.9 220.1 L330.7 218.2 L331.5 216.5 L332.3 214.8 L333.1 213.0 L333.9 211.2 L334.7 209.3 L335.5 207.3 L336.3 205.1 L337.1 202.9 L337.9 200.9 L338.7 199.2 L339.5 197.3 L340.3 195.4 L341.1 193.3 L341.9 191.3 L342.7 189.2 L343.5 186.9 L344.3 184.7 L345.1 182.6 L345.9 180.8 L346.7 178.9 L347.5 176.8 L348.3 174.6 L349.1 172.3 L349.9 169.7 L350.7 167.0 L351.5 164.2 L352.3 161.7 L353.1 159.8 L353.9 157.7 L354.7 155.2 L355.5 153.0 L356.3 150.7 L357.1 148.2 L357.9 145.7 L358.7 143.3 L359.5 140.9 L360.3 138.4 L361.1 135.7 L361.9 132.9 L362.7 130.0 L363.5 126.4 L364.3 123.8 L365.1 121.5 L365.9 119.3 L366.7 117.4 L367.5 115.3 L368.3 113.5 L369.1 111.9 L369.9 110.3 L370.7 108.9 L371.5 107.9 L372.3 107.1 L373.1 106.8 L373.9 106.7 L374.7 106.6 L375.5 106.8 L376.3 107.3 L377.1 108.0 L377.9 109.3 L378.7 111.1 L379.5 113.1 L380.3 115.2 L381.1 117.7 L381.9 120.9 L382.7 124.3 L383.5 128.1 L384.3 132.2 L385.1 136.6 L385.9 141.4 L386.7 146.3 L387.5 151.2 L388.3 156.5 L389.1 162.1 L389.9 167.1 L390.7 171.2 L391.5 176.0 L392.3 182.0 L393.1 188.1 L393.9 193.6 L394.7 198.9 L395.5 204.3 L396.3 211.8 L397.1 218.9 L397.9 228.6 L398.7 236.3 L399.5 242.5 L400.3 248.0 L401.1 253.6 L401.9 260.9 L402.7 266.8 L403.5 272.2 L404.3 277.6 L405.1 283.0 L405.9 288.2 L406.7 293.4 L407.5 298.8 L408.3 303.9 L409.1 308.4 L409.9 312.4 L410.7 316.4 L411.5 320.1 L412.3 323.5 L413.1 326.9 L413.9 330.6 L414.7 334.2 L415.5 337.2 L416.3 340.4 L417.1 343.3 L417.9 345.9 L418.7 348.4 L419.5 350.7 L420.3 353.2 L421.1 355.8 L421.9 358.0 L422.7 360.2 L423.5 362.5 L424.3 364.7 L425.1 366.7 L425.9 368.4 L426.7 369.9 L427.5 371.4 L428.3 372.9 L429.1 374.0 L429.9 374.8 L430.7 375.7 L431.5 376.6 L432.3 377.7 L433.1 378.7 L433.9 379.2 L434.7 379.9 L435.5 381.0 L436.3 382.0 L437.1 382.9 L437.9 383.5 L438.7 384.1 L439.5 385.2 L440.3 386.5 L441.1 387.4 L441.9 388.0 L442.7 388.7 L443.5 389.4 L444.3 390.4 L445.1 391.6 L445.9 392.0 L446.7 392.2 L447.5 393.1 L448.3 394.3 L449.1 395.1 L449.9 395.5 L450.7 396.0 L451.5 396.5 L452.3 396.6 L453.1 397.4 L453.9 398.5 L454.7 399.0 L455.5 399.7 L456.3 400.5 L457.1 400.8 L457.9 401.1 L458.7 401.9 L459.5 401.8 L460.3 401.7 L461.1 402.1 L461.9 402.2 L462.7 402.1 L463.5 402.4 L464.3 402.4 L465.1 402.2 L465.9 402.7 L466.7 403.2 L467.5 403.1 L468.3 403.1 L469.1 403.6 L469.9 404.2 L470.7 404.3 L471.5 404.4 L472.3 404.7 L473.1 404.7 L473.9 405.3 L474.7 405.9 L475.5 405.7 L476.3 405.9 L477.1 406.4 L477.9 406.4 L478.7 406.4 L479.5 406.9 L480.3 406.9 L481.1 406.2 L481.9 406.2 L482.7 406.5 L483.5 406.6 L484.3 406.8 L485.1 407.2 L485.9 407.5 L486.7 407.5 L487.5 407.8 L488.3 407.9 L489.1 407.8 L489.9 408.2 L490.7 408.7 L491.5 408.3 L492.3 407.9 L493.1 407.8 L493.9 407.8 L494.7 408.2 L495.5 408.3 L496.3 408.0 L497.1 408.1 L497.9 408.5 L498.7 408.3 L499.5 408.0 L500.3 407.7 L501.1 407.7 L501.9 408.3 L502.7 408.9 L503.5 408.4 L504.3 407.9 L505.1 408.0 L505.9 408.3 L506.7 408.6 L507.5 408.9 L508.3 409.2 L509.1 409.1 L509.9 409.0 L510.7 408.9 L511.5 408.4 L512.3 408.0 L513.1 408.1 L513.9 408.3 L514.7 407.9 L515.5 407.7 L516.3 408.3 L517.1 408.3 L517.9 408.1 L518.7 408.2 L519.5 408.4 L520.3 408.3 L521.1 407.9 L521.9 407.9 L522.7 408.4 L523.5 408.5 L524.3 408.2 L525.1 408.0 L525.9 408.0 L526.7 408.5 L527.5 408.6 L528.3 408.5 L529.1 408.9 L529.9 408.9 L530.7 408.5 L531.5 408.3 L532.3 407.7 L533.1 407.3 L533.9 407.5 L534.7 407.9 L535.5 408.1 L536.3 408.1 L537.1 407.9 L537.9 407.7 L538.7 408.1" stroke="#ff00ff" stroke-width="1.9"/>
<path d="M89.1 396.7 L89.9 397.0 L90.7 397.2 L91.5 397.3 L92.3 397.4 L93.1 397.6 L93.9 397.8 L94.7 398.0 L95.5 397.9 L96.3 397.7 L97.1 397.6 L97.9 397.6 L98.7 397.6 L99.5 397.4 L100.3 397.4 L101.1 397.3 L101.9 397.1 L102.7 397.1 L103.5 397.0 L104.3 396.8 L105.1 396.6 L105.9 396.4 L106.7 396.2 L107.5 395.9 L108.3 395.6 L109.1 395.4 L109.9 395.0 L110.7 394.6 L111.5 394.2 L112.3 393.9 L113.1 393.6 L113.9 393.2 L114.7 392.9 L115.5 392.6 L116.3 392.0 L117.1 391.5 L117.9 391.2 L118.7 390.9 L119.5 390.5 L120.3 389.9 L121.1 389.5 L121.9 389.2 L122.7 388.9 L123.5 388.5 L124.3 388.0 L125.1 387.7 L125.9 387.4 L126.7 386.9 L127.5 386.4 L128.3 386.1 L129.1 385.9 L129.9 385.3 L130.7 384.8 L131.5 384.4 L132.3 384.0 L133.1 383.8 L133.9 383.5 L134.7 382.8 L135.5 382.3 L136.3 382.2 L137.1 381.9 L137.9 381.5 L138.7 381.0 L139.5 380.4 L140.3 379.9 L141.1 379.4 L141.9 379.1 L142.7 378.9 L143.5 378.6 L144.3 378.4 L145.1 377.9 L145.9 377.5 L146.7 377.4 L147.5 377.2 L148.3 376.8 L149.1 376.3 L149.9 376.1 L150.7 375.8 L151.5 375.3 L152.3 374.9 L153.1 374.6 L153.9 374.1 L154.7 373.6 L155.5 373.1 L156.3 372.8 L157.1 372.4 L157.9 372.1 L158.7 371.7 L159.5 371.1 L160.3 370.5 L161.1 370.1 L161.9 369.7 L162.7 369.2 L163.5 368.6 L164.3 367.8 L165.1 367.2 L165.9 366.6 L166.7 365.7 L167.5 364.9 L168.3 364.3 L169.1 363.6 L169.9 362.6 L170.7 361.7 L171.5 360.9 L172.3 360.1 L173.1 359.4 L173.9 358.5 L174.7 357.6 L175.5 356.9 L176.3 356.0 L177.1 355.2 L177.9 354.4 L178.7 353.5 L179.5 352.5 L180.3 351.7 L181.1 350.6 L181.9 349.5 L182.7 348.5 L183.5 347.3 L184.3 346.0 L185.1 344.7 L185.9 343.4 L186.7 342.2 L187.5 340.8 L188.3 339.6 L189.1 338.5 L189.9 337.2 L190.7 336.0 L191.5 334.9 L192.3 333.5 L193.1 332.2 L193.9 331.0 L194.7 329.8 L195.5 328.8 L196.3 327.6 L197.1 326.2 L197.9 325.0 L198.7 323.9 L199.5 322.7 L200.3 321.6 L201.1 320.5 L201.9 319.3 L202.7 318.3 L203.5 317.5 L204.3 316.6 L205.1 315.7 L205.9 315.0 L206.7 314.4 L207.5 313.8 L208.3 313.2 L209.1 312.6 L209.9 312.3 L210.7 312.1 L211.5 311.7 L212.3 311.5 L213.1 311.3 L213.9 311.0 L214.7 310.6 L215.5 309.9 L216.3 309.3 L217.1 308.9 L217.9 308.5 L218.7 307.9 L219.5 307.4 L220.3 306.9 L221.1 306.4 L221.9 306.0 L222.7 305.6 L223.5 305.3 L224.3 305.1 L225.1 304.9 L225.9 304.8 L226.7 304.6 L227.5 304.4 L228.3 304.0 L229.1 303.6 L229.9 303.1 L230.7 302.5 L231.5 301.9 L232.3 301.0 L233.1 299.9 L233.9 299.0 L234.7 298.1 L235.5 297.2 L236.3 295.9 L237.1 294.5 L237.9 293.0 L238.7 291.6 L239.5 290.2 L240.3 288.6 L241.1 286.7 L241.9 284.9 L242.7 282.9 L243.5 280.8 L244.3 278.8 L245.1 276.6 L245.9 274.4 L246.7 272.4 L247.5 270.3 L248.3 268.0 L249.1 265.8 L249.9 263.7 L250.7 261.5 L251.5 259.3 L252.3 257.0 L253.1 254.7 L253.9 252.3 L254.7 249.9 L255.5 247.4 L256.3 244.7 L257.1 241.9 L257.9 238.6 L258.7 234.9 L259.5 231.2 L260.3 227.9 L261.1 224.8 L261.9 221.6 L262.7 218.6 L263.5 215.6 L264.3 212.6 L265.1 209.6 L265.9 206.7 L266.7 204.0 L267.5 201.1 L268.3 198.1 L269.1 195.3 L269.9 192.7 L270.7 189.9 L271.5 187.2 L272.3 184.6 L273.1 182.1 L273.9 179.7 L274.7 177.3 L275.5 175.0 L276.3 172.6 L277.1 170.2 L277.9 168.0 L278.7 165.9 L279.5 163.7 L280.3 161.6 L281.1 159.8 L281.9 158.1 L282.7 156.5 L283.5 155.2 L284.3 154.2 L285.1 153.4 L285.9 152.7 L286.7 152.3 L287.5 152.1 L288.3 152.2 L289.1 152.5 L289.9 153.3 L290.7 154.1 L291.5 155.0 L292.3 156.5 L293.1 158.2 L293.9 160.0 L294.7 161.9 L295.5 163.9 L296.3 166.0 L297.1 168.3 L297.9 170.7 L298.7 173.0 L299.5 175.5 L300.3 178.0 L301.1 180.6 L301.9 183.3 L302.7 185.6 L303.5 187.8 L304.3 190.0 L305.1 192.0 L305.9 193.8 L306.7 195.7 L307.5 197.9 L308.3 199.8 L309.1 201.6 L309.9 203.4 L310.7 205.5 L311.5 207.4 L312.3 209.2 L313.1 210.8 L313.9 212.2 L314.7 213.6 L315.5 215.1 L316.3 216.2 L317.1 217.2 L317.9 218.2 L318.7 219.0 L319.5 219.6 L320.3 220.0 L321.1 220.2 L321.9 220.3 L322.7 219.9 L323.5 219.3 L324.3 218.9 L325.1 218.5 L325.9 218.0 L326.7 217.4 L327.5 216.4 L328.3 215.1 L329.1 213.5 L329.9 211.8 L330.7 210.1 L331.5 208.5 L332.3 206.7 L333.1 204.4 L333.9 202.0 L334.7 200.0 L335.5 198.0 L336.3 195.7 L337.1 193.6 L337.9 191.6 L338.7 189.6 L339.5 187.2 L340.3 184.5 L341.1 181.9 L341.9 179.2 L342.7 176.5 L343.5 173.8 L344.3 171.3 L345.1 168.7 L345.9 166.0 L346.7 163.3 L347.5 160.7 L348.3 157.9 L349.1 155.1 L349.9 152.5 L350.7 150.1 L351.5 147.6 L352.3 145.0 L353.1 142.4 L353.9 140.2 L354.7 138.0 L355.5 135.5 L356.3 132.7 L357.1 129.8 L357.9 126.8 L358.7 123.9 L359.5 121.2 L360.3 118.3 L361.1 115.5 L361.9 112.9 L362.7 110.7 L363.5 108.5 L364.3 106.4 L365.1 104.4 L365.9 102.1 L366.7 99.8 L367.5 98.0 L368.3 96.3 L369.1 94.7 L369.9 93.4 L370.7 91.9 L371.5 90.6 L372.3 89.8 L373.1 89.4 L373.9 89.5 L374.7 89.9 L375.5 90.3 L376.3 90.9 L377.1 91.9 L377.9 93.2 L378.7 95.1 L379.5 97.7 L380.3 100.6 L381.1 103.7 L381.9 107.4 L382.7 111.2 L383.5 115.1 L384.3 119.0 L385.1 123.1 L385.9 127.3 L386.7 131.6 L387.5 135.8 L388.3 139.9 L389.1 144.2 L389.9 148.6 L390.7 153.0 L391.5 158.0 L392.3 163.4 L393.1 168.9 L393.9 174.7 L394.7 180.5 L395.5 186.6 L396.3 194.9 L397.1 202.6 L397.9 209.8 L398.7 216.8 L399.5 223.8 L400.3 230.0 L401.1 236.1 L401.9 244.8 L402.7 251.9 L403.5 258.3 L404.3 264.3 L405.1 270.6 L405.9 276.9 L406.7 283.2 L407.5 289.3 L408.3 295.0 L409.1 300.2 L409.9 305.0 L410.7 309.5 L411.5 313.3 L412.3 317.0 L413.1 321.0 L413.9 325.1 L414.7 329.1 L415.5 332.8 L416.3 336.4 L417.1 339.9 L417.9 343.1 L418.7 345.9 L419.5 348.6 L420.3 351.2 L421.1 353.6 L421.9 356.1 L422.7 358.5 L423.5 360.8 L424.3 363.1 L425.1 365.2 L425.9 367.4 L426.7 369.5 L427.5 371.2 L428.3 373.0 L429.1 374.9 L429.9 376.7 L430.7 378.3 L431.5 379.6 L432.3 380.7 L433.1 381.7 L433.9 382.5 L434.7 383.4 L435.5 384.6 L436.3 385.6 L437.1 386.6 L437.9 387.8 L438.7 388.5 L439.5 388.9 L440.3 389.9 L441.1 391.0 L441.9 392.5 L442.7 393.6 L443.5 393.9 L444.3 394.3 L445.1 395.1 L445.9 396.0 L446.7 396.9 L447.5 397.5 L448.3 398.0 L449.1 398.7 L449.9 399.2 L450.7 399.9 L451.5 400.9 L452.3 401.1 L453.1 401.0 L453.9 401.3 L454.7 402.0 L455.5 402.8 L456.3 403.3 L457.1 403.3 L457.9 403.8 L458.7 404.4 L459.5 404.7 L460.3 405.0 L461.1 405.4 L461.9 405.5 L462.7 405.6 L463.5 405.9 L464.3 405.8 L465.1 405.4 L465.9 405.7 L466.7 405.8 L467.5 405.6 L468.3 405.2 L469.1 405.2 L469.9 405.6 L470.7 406.1 L471.5 406.2 L472.3 406.3 L473.1 406.9 L473.9 407.0 L474.7 406.6 L475.5 406.4 L476.3 406.4 L477.1 406.4 L477.9 406.7 L478.7 407.1 L479.5 407.0 L480.3 406.7 L481.1 406.9 L481.9 407.1 L482.7 407.7 L483.5 408.3 L484.3 408.1 L485.1 407.3 L485.9 406.8 L486.7 406.6 L487.5 407.0 L488.3 407.6 L489.1 407.6 L489.9 407.6 L490.7 407.6 L491.5 408.0 L492.3 408.2 L493.1 407.8 L493.9 407.5 L494.7 407.7 L495.5 407.9 L496.3 407.5 L497.1 407.1 L497.9 407.0 L498.7 407.3 L499.5 408.3 L500.3 408.8 L501.1 408.2 L501.9 408.2 L502.7 408.0 L503.5 407.6 L504.3 407.6 L505.1 407.7 L505.9 408.0 L506.7 408.2 L507.5 407.7 L508.3 407.8 L509.1 408.1 L509.9 407.8 L510.7 408.1 L511.5 408.3 L512.3 408.3 L513.1 408.3 L513.9 407.9 L514.7 407.6 L515.5 408.6 L516.3 409.2 L517.1 408.9 L517.9 408.3 L518.7 407.6 L519.5 407.5 L520.3 407.6 L521.1 407.8 L521.9 408.1 L522.7 407.8 L523.5 407.5 L524.3 407.2 L525.1 407.6 L525.9 407.9 L526.7 407.6 L527.5 407.9 L528.3 408.3 L529.1 407.7 L529.9 407.2 L530.7 407.7 L531.5 408.6 L532.3 409.0 L533.1 408.3 L533.9 407.7 L534.7 407.8 L535.5 408.1 L536.3 408.0 L537.1 408.5 L537.9 408.7 L538.7 408.2" stroke="#00cc00" stroke-width="1.9"/>
<path d="M89.1 397.3 L89.9 397.5 L90.7 397.6 L91.5 397.5 L92.3 397.6 L93.1 397.5 L93.9 397.4 L94.7 397.4 L95.5 397.3 L96.3 397.1 L97.1 396.9 L97.9 396.9 L98.7 397.1 L99.5 397.1 L100.3 396.8 L101.1 396.5 L101.9 396.2 L102.7 396.0 L103.5 395.7 L104.3 395.4 L105.1 395.1 L105.9 395.0 L106.7 394.6 L107.5 394.3 L108.3 394.1 L109.1 393.9 L109.9 393.6 L110.7 393.2 L111.5 392.8 L112.3 392.5 L113.1 392.0 L113.9 391.6 L114.7 391.2 L115.5 391.0 L116.3 390.6 L117.1 390.1 L117.9 389.5 L118.7 389.0 L119.5 388.7 L120.3 388.4 L121.1 387.9 L121.9 387.5 L122.7 387.2 L123.5 386.7 L124.3 386.3 L125.1 386.0 L125.9 385.6 L126.7 385.1 L127.5 384.7 L128.3 384.3 L129.1 383.9 L129.9 383.4 L130.7 382.9 L131.5 382.5 L132.3 382.1 L133.1 381.7 L133.9 381.4 L134.7 380.9 L135.5 380.2 L136.3 379.7 L137.1 379.4 L137.9 379.1 L138.7 378.9 L139.5 378.6 L140.3 378.1 L141.1 377.6 L141.9 377.2 L142.7 376.8 L143.5 376.4 L144.3 376.0 L145.1 375.7 L145.9 375.6 L146.7 375.3 L147.5 375.0 L148.3 374.6 L149.1 374.3 L149.9 374.0 L150.7 373.7 L151.5 373.3 L152.3 372.9 L153.1 372.3 L153.9 372.0 L154.7 371.7 L155.5 371.2 L156.3 370.8 L157.1 370.5 L157.9 370.1 L158.7 369.5 L159.5 369.1 L160.3 368.7 L161.1 368.2 L161.9 367.5 L162.7 366.8 L163.5 366.1 L164.3 365.6 L165.1 365.1 L165.9 364.5 L166.7 363.7 L167.5 362.8 L168.3 362.0 L169.1 361.3 L169.9 360.6 L170.7 360.0 L171.5 359.4 L172.3 358.6 L173.1 357.6 L173.9 356.5 L174.7 355.4 L175.5 354.4 L176.3 353.8 L177.1 353.2 L177.9 352.4 L178.7 351.5 L179.5 350.5 L180.3 349.5 L181.1 348.5 L181.9 347.4 L182.7 346.1 L183.5 344.8 L184.3 343.6 L185.1 342.6 L185.9 341.4 L186.7 339.9 L187.5 338.5 L188.3 337.2 L189.1 335.9 L189.9 334.6 L190.7 333.3 L191.5 332.0 L192.3 330.8 L193.1 329.5 L193.9 328.2 L194.7 326.8 L195.5 325.5 L196.3 324.2 L197.1 323.0 L197.9 321.6 L198.7 320.3 L199.5 318.9 L200.3 317.6 L201.1 316.4 L201.9 315.1 L202.7 313.9 L203.5 312.5 L204.3 311.1 L205.1 309.9 L205.9 308.9 L206.7 307.9 L207.5 307.1 L208.3 306.4 L209.1 305.7 L209.9 304.9 L210.7 304.1 L211.5 303.4 L212.3 302.8 L213.1 302.4 L213.9 302.0 L214.7 301.7 L215.5 301.3 L216.3 301.1 L217.1 301.0 L217.9 301.0 L218.7 300.8 L219.5 300.6 L220.3 300.7 L221.1 300.7 L221.9 300.5 L222.7 300.3 L223.5 300.1 L224.3 299.9 L225.1 300.0 L225.9 300.2 L226.7 300.3 L227.5 300.1 L228.3 299.9 L229.1 299.6 L229.9 299.3 L230.7 298.7 L231.5 298.0 L232.3 297.2 L233.1 296.5 L233.9 295.9 L234.7 295.0 L235.5 293.9 L236.3 292.7 L237.1 291.6 L237.9 290.4 L238.7 289.1 L239.5 287.6 L240.3 285.9 L241.1 284.3 L241.9 282.6 L242.7 280.9 L243.5 279.0 L244.3 276.9 L245.1 274.8 L245.9 272.8 L246.7 270.8 L247.5 268.9 L248.3 266.8 L249.1 264.6 L249.9 262.6 L250.7 260.5 L251.5 258.3 L252.3 256.2 L253.1 253.9 L253.9 251.4 L254.7 249.1 L255.5 246.7 L256.3 244.1 L257.1 241.3 L257.9 237.8 L258.7 234.2 L259.5 230.7 L260.3 227.5 L261.1 224.5 L261.9 221.4 L262.7 218.5 L263.5 215.7 L264.3 212.8 L265.1 209.7 L265.9 206.6 L266.7 203.7 L267.5 201.0 L268.3 198.2 L269.1 195.4 L269.9 192.7 L270.7 190.0 L271.5 187.3 L272.3 184.8 L273.1 182.2 L273.9 179.7 L274.7 177.4 L275.5 175.0 L276.3 172.7 L277.1 170.3 L277.9 168.1 L278.7 166.0 L279.5 163.7 L280.3 161.5 L281.1 159.5 L281.9 157.8 L282.7 156.3 L283.5 154.8 L284.3 153.6 L285.1 152.7 L285.9 151.9 L286.7 151.3 L287.5 151.0 L288.3 151.2 L289.1 151.6 L289.9 151.9 L290.7 152.5 L291.5 153.7 L292.3 155.3 L293.1 156.9 L293.9 158.4 L294.7 160.2 L295.5 162.4 L296.3 164.6 L297.1 166.6 L297.9 168.9 L298.7 171.6 L299.5 174.2 L300.3 176.7 L301.1 179.5 L301.9 182.2 L302.7 184.6 L303.5 186.8 L304.3 188.8 L305.1 191.0 L305.9 193.0 L306.7 194.9 L307.5 197.0 L308.3 198.8 L309.1 200.9 L309.9 203.3 L310.7 205.4 L311.5 207.3 L312.3 209.2 L313.1 210.8 L313.9 212.3 L314.7 213.9 L315.5 215.3 L316.3 216.7 L317.1 217.9 L317.9 218.8 L318.7 219.6 L319.5 220.4 L320.3 220.8 L321.1 220.9 L321.9 220.9 L322.7 220.7 L323.5 220.2 L324.3 219.5 L325.1 218.8 L325.9 218.2 L326.7 217.5 L327.5 216.6 L328.3 215.4 L329.1 213.8 L329.9 212.2 L330.7 210.4 L331.5 208.5 L332.3 206.6 L333.1 204.5 L333.9 202.3 L334.7 200.1 L335.5 197.9 L336.3 195.8 L337.1 193.8 L337.9 191.9 L338.7 189.7 L339.5 187.2 L340.3 184.6 L341.1 181.8 L341.9 179.1 L342.7 176.5 L343.5 173.9 L344.3 171.3 L345.1 168.4 L345.9 165.6 L346.7 162.9 L347.5 160.0 L348.3 157.0 L349.1 154.2 L349.9 151.8 L350.7 149.4 L351.5 146.8 L352.3 144.4 L353.1 142.0 L353.9 139.6 L354.7 137.0 L355.5 134.2 L356.3 131.4 L357.1 128.7 L357.9 125.7 L358.7 122.7 L359.5 119.9 L360.3 117.0 L361.1 114.1 L361.9 111.4 L362.7 109.0 L363.5 106.9 L364.3 105.0 L365.1 103.0 L365.9 100.6 L366.7 98.4 L367.5 96.5 L368.3 94.6 L369.1 92.8 L369.9 91.3 L370.7 90.0 L371.5 88.9 L372.3 87.9 L373.1 87.6 L373.9 87.8 L374.7 88.2 L375.5 88.5 L376.3 89.0 L377.1 89.8 L377.9 91.2 L378.7 93.1 L379.5 95.7 L380.3 98.7 L381.1 101.8 L381.9 105.5 L382.7 109.5 L383.5 113.6 L384.3 117.8 L385.1 121.9 L385.9 126.0 L386.7 130.2 L387.5 134.6 L388.3 139.0 L389.1 143.4 L389.9 147.7 L390.7 152.1 L391.5 157.4 L392.3 163.1 L393.1 168.9 L393.9 174.5 L394.7 180.2 L395.5 186.4 L396.3 194.8 L397.1 202.5 L397.9 209.8 L398.7 216.8 L399.5 223.7 L400.3 230.1 L401.1 236.4 L401.9 245.1 L402.7 251.9 L403.5 258.0 L404.3 264.3 L405.1 270.8 L405.9 277.1 L406.7 283.2 L407.5 289.1 L408.3 295.0 L409.1 300.3 L409.9 305.2 L410.7 309.5 L411.5 313.5 L412.3 317.4 L413.1 321.2 L413.9 325.1 L414.7 328.8 L415.5 332.5 L416.3 336.3 L417.1 339.7 L417.9 342.5 L418.7 345.2 L419.5 347.9 L420.3 350.5 L421.1 352.8 L421.9 355.2 L422.7 357.7 L423.5 360.1 L424.3 362.5 L425.1 365.0 L425.9 367.4 L426.7 370.0 L427.5 372.5 L428.3 374.8 L429.1 377.3 L429.9 380.1 L430.7 382.7 L431.5 385.0 L432.3 386.7 L433.1 388.1 L433.9 389.5 L434.7 390.8 L435.5 391.9 L436.3 393.0 L437.1 394.4 L437.9 395.9 L438.7 397.2 L439.5 398.4 L440.3 399.3 L441.1 399.9 L441.9 400.5 L442.7 401.3 L443.5 402.5 L444.3 403.2 L445.1 403.1 L445.9 403.5 L446.7 404.0 L447.5 404.3 L448.3 405.0 L449.1 406.0 L449.9 406.5 L450.7 406.9 L451.5 407.4 L452.3 407.6 L453.1 407.9 L453.9 408.2 L454.7 408.5 L455.5 409.0 L456.3 409.5 L457.1 410.1 L457.9 410.4 L458.7 410.6 L459.5 410.4 L460.3 410.3 L461.1 410.1 L461.9 410.1 L462.7 410.9 L463.5 411.1 L464.3 411.1 L465.1 411.4 L465.9 411.4 L466.7 411.5 L467.5 412.0 L468.3 411.8 L469.1 411.7 L469.9 412.4 L470.7 412.5 L471.5 411.9 L472.3 411.5 L473.1 411.3 L473.9 411.7 L474.7 412.3 L475.5 412.2 L476.3 412.0 L477.1 412.5 L477.9 413.0 L478.7 412.7 L479.5 412.7 L480.3 413.2 L481.1 413.2 L481.9 412.8 L482.7 412.4 L483.5 412.1 L484.3 412.2 L485.1 412.6 L485.9 412.9 L486.7 413.3 L487.5 413.4 L488.3 413.4 L489.1 413.1 L489.9 412.5 L490.7 412.2 L491.5 412.5 L492.3 412.7 L493.1 412.8 L493.9 412.8 L494.7 412.6 L495.5 412.7 L496.3 413.1 L497.1 413.2 L497.9 413.2 L498.7 413.4 L499.5 413.2 L500.3 413.0 L501.1 413.6 L501.9 414.0 L502.7 413.7 L503.5 414.0 L504.3 414.4 L505.1 414.1 L505.9 413.8 L506.7 414.0 L507.5 413.8 L508.3 413.3 L509.1 413.4 L509.9 413.7 L510.7 413.6 L511.5 413.7 L512.3 413.8 L513.1 413.3 L513.9 413.1 L514.7 413.7 L515.5 414.1 L516.3 413.8 L517.1 413.5 L517.9 413.8 L518.7 414.2 L519.5 414.0 L520.3 413.4 L521.1 413.3 L521.9 413.2 L522.7 412.8 L523.5 413.2 L524.3 413.8 L525.1 413.5 L525.9 413.4 L526.7 413.9 L527.5 414.3 L528.3 414.0 L529.1 413.5 L529.9 413.6 L530.7 413.8 L531.5 413.4 L532.3 413.4 L533.1 414.0 L533.9 414.1 L534.7 413.0 L535.5 412.2 L536.3 412.4 L537.1 412.9 L537.9 413.5 L538.7 413.8" stroke="#daa520" stroke-width="1.9"/>
<path d="M89.1 396.6 L89.9 396.9 L90.7 397.1 L91.5 397.2 L92.3 397.3 L93.1 397.6 L93.9 397.8 L94.7 397.7 L95.5 397.4 L96.3 397.3 L97.1 397.2 L97.9 397.1 L98.7 397.1 L99.5 397.1 L100.3 397.0 L101.1 396.8 L101.9 396.5 L102.7 396.3 L103.5 396.2 L104.3 396.1 L105.1 396.0 L105.9 395.8 L106.7 395.5 L107.5 395.3 L108.3 395.0 L109.1 394.6 L109.9 394.1 L110.7 393.9 L111.5 393.8 L112.3 393.6 L113.1 393.2 L113.9 392.8 L114.7 392.3 L115.5 391.8 L116.3 391.5 L117.1 391.2 L117.9 390.8 L118.7 390.3 L119.5 389.9 L120.3 389.6 L121.1 389.1 L121.9 388.7 L122.7 388.5 L123.5 388.0 L124.3 387.6 L125.1 387.3 L125.9 386.9 L126.7 386.4 L127.5 385.9 L128.3 385.4 L129.1 384.8 L129.9 384.5 L130.7 384.2 L131.5 383.8 L132.3 383.4 L133.1 382.9 L133.9 382.5 L134.7 382.2 L135.5 381.9 L136.3 381.6 L137.1 381.3 L137.9 380.8 L138.7 380.3 L139.5 379.8 L140.3 379.5 L141.1 379.1 L141.9 378.6 L142.7 378.2 L143.5 377.9 L144.3 377.6 L145.1 377.2 L145.9 376.8 L146.7 376.5 L147.5 376.2 L148.3 375.8 L149.1 375.6 L149.9 375.4 L150.7 374.8 L151.5 374.5 L152.3 374.2 L153.1 373.9 L153.9 373.5 L154.7 373.0 L155.5 372.7 L156.3 372.5 L157.1 371.9 L157.9 371.3 L158.7 370.8 L159.5 370.3 L160.3 369.9 L161.1 369.3 L161.9 368.8 L162.7 368.4 L163.5 367.7 L164.3 367.1 L165.1 366.5 L165.9 365.8 L166.7 365.3 L167.5 364.5 L168.3 363.6 L169.1 362.8 L169.9 362.0 L170.7 361.2 L171.5 360.4 L172.3 359.6 L173.1 358.8 L173.9 358.0 L174.7 357.2 L175.5 356.4 L176.3 355.5 L177.1 354.6 L177.9 353.6 L178.7 352.7 L179.5 351.9 L180.3 351.1 L181.1 350.2 L181.9 349.0 L182.7 347.7 L183.5 346.4 L184.3 345.2 L185.1 344.0 L185.9 342.9 L186.7 341.5 L187.5 340.0 L188.3 338.7 L189.1 337.6 L189.9 336.3 L190.7 335.0 L191.5 333.7 L192.3 332.4 L193.1 331.0 L193.9 329.6 L194.7 328.4 L195.5 327.2 L196.3 325.9 L197.1 324.6 L197.9 323.4 L198.7 322.2 L199.5 321.0 L200.3 319.6 L201.1 318.3 L201.9 317.1 L202.7 316.0 L203.5 315.0 L204.3 313.9 L205.1 313.0 L205.9 312.2 L206.7 311.3 L207.5 310.5 L208.3 309.7 L209.1 309.1 L209.9 308.6 L210.7 308.0 L211.5 307.3 L212.3 307.0 L213.1 306.6 L213.9 306.2 L214.7 305.7 L215.5 305.1 L216.3 304.8 L217.1 304.7 L217.9 304.2 L218.7 303.7 L219.5 303.4 L220.3 303.0 L221.1 302.4 L221.9 302.1 L222.7 302.0 L223.5 302.0 L224.3 301.9 L225.1 301.8 L225.9 301.7 L226.7 301.5 L227.5 301.1 L228.3 300.9 L229.1 300.6 L229.9 300.1 L230.7 299.7 L231.5 299.1 L232.3 298.4 L233.1 297.5 L233.9 296.8 L234.7 296.0 L235.5 294.7 L236.3 293.5 L237.1 292.5 L237.9 291.4 L238.7 289.9 L239.5 288.4 L240.3 287.0 L241.1 285.3 L241.9 283.5 L242.7 281.8 L243.5 280.0 L244.3 278.2 L245.1 276.2 L245.9 274.2 L246.7 272.2 L247.5 270.1 L248.3 267.9 L249.1 265.6 L249.9 263.4 L250.7 261.4 L251.5 259.1 L252.3 257.0 L253.1 254.9 L253.9 252.7 L254.7 250.5 L255.5 248.0 L256.3 245.3 L257.1 242.7 L257.9 239.5 L258.7 235.6 L259.5 231.7 L260.3 228.4 L261.1 225.3 L261.9 221.9 L262.7 218.7 L263.5 215.6 L264.3 212.5 L265.1 209.4 L265.9 206.3 L266.7 203.1 L267.5 200.0 L268.3 197.0 L269.1 194.1 L269.9 191.4 L270.7 188.7 L271.5 186.0 L272.3 183.5 L273.1 180.9 L273.9 178.2 L274.7 175.9 L275.5 173.4 L276.3 170.9 L277.1 168.4 L277.9 165.8 L278.7 163.3 L279.5 160.8 L280.3 158.5 L281.1 156.3 L281.9 154.1 L282.7 152.6 L283.5 151.2 L284.3 149.8 L285.1 148.7 L285.9 148.0 L286.7 147.4 L287.5 147.1 L288.3 146.9 L289.1 146.9 L289.9 147.4 L290.7 148.2 L291.5 149.4 L292.3 150.9 L293.1 152.5 L293.9 154.4 L294.7 156.6 L295.5 158.6 L296.3 160.6 L297.1 163.0 L297.9 165.5 L298.7 168.1 L299.5 170.7 L300.3 173.5 L301.1 176.4 L301.9 179.1 L302.7 181.5 L303.5 183.8 L304.3 186.0 L305.1 188.2 L305.9 190.3 L306.7 192.2 L307.5 194.0 L308.3 195.8 L309.1 197.7 L309.9 200.1 L310.7 202.6 L311.5 204.7 L312.3 206.5 L313.1 208.3 L313.9 209.8 L314.7 211.1 L315.5 212.3 L316.3 213.6 L317.1 214.8 L317.9 215.8 L318.7 216.6 L319.5 217.3 L320.3 218.0 L321.1 218.3 L321.9 218.1 L322.7 217.8 L323.5 217.4 L324.3 216.6 L325.1 215.9 L325.9 215.4 L326.7 214.9 L327.5 214.1 L328.3 212.8 L329.1 211.2 L329.9 209.4 L330.7 207.6 L331.5 205.7 L332.3 203.7 L333.1 201.7 L333.9 199.4 L334.7 196.9 L335.5 194.6 L336.3 192.4 L337.1 190.4 L337.9 188.2 L338.7 185.9 L339.5 183.3 L340.3 180.5 L341.1 177.6 L341.9 174.9 L342.7 172.2 L343.5 169.4 L344.3 166.4 L345.1 163.5 L345.9 160.7 L346.7 157.7 L347.5 154.6 L348.3 151.8 L349.1 149.1 L349.9 146.4 L350.7 143.7 L351.5 141.1 L352.3 138.5 L353.1 135.9 L353.9 133.2 L354.7 130.3 L355.5 127.4 L356.3 124.3 L357.1 121.1 L357.9 117.8 L358.7 114.3 L359.5 110.9 L360.3 107.8 L361.1 104.8 L361.9 101.8 L362.7 99.2 L363.5 96.9 L364.3 94.7 L365.1 92.3 L365.9 89.6 L366.7 86.9 L367.5 84.4 L368.3 82.3 L369.1 80.4 L369.9 78.7 L370.7 77.0 L371.5 75.6 L372.3 74.6 L373.1 74.0 L373.9 73.8 L374.7 73.9 L375.5 74.3 L376.3 74.8 L377.1 75.6 L377.9 76.9 L378.7 78.8 L379.5 81.5 L380.3 84.4 L381.1 87.6 L381.9 91.4 L382.7 95.5 L383.5 99.7 L384.3 103.9 L385.1 108.2 L385.9 112.4 L386.7 116.6 L387.5 120.8 L388.3 125.1 L389.1 129.6 L389.9 134.0 L390.7 138.5 L391.5 143.8 L392.3 149.7 L393.1 155.5 L393.9 161.3 L394.7 167.4 L395.5 174.1 L396.3 183.7 L397.1 192.1 L397.9 199.8 L398.7 207.5 L399.5 214.8 L400.3 221.0 L401.1 227.6 L401.9 237.2 L402.7 244.5 L403.5 251.3 L404.3 258.0 L405.1 264.9 L405.9 271.5 L406.7 278.2 L407.5 284.8 L408.3 291.1 L409.1 296.7 L409.9 301.8 L410.7 306.4 L411.5 310.4 L412.3 314.2 L413.1 318.1 L413.9 322.2 L414.7 326.3 L415.5 330.4 L416.3 334.3 L417.1 337.7 L417.9 341.0 L418.7 344.0 L419.5 346.4 L420.3 348.9 L421.1 351.4 L421.9 353.7 L422.7 356.1 L423.5 358.6 L424.3 361.0 L425.1 363.5 L425.9 365.8 L426.7 367.8 L427.5 369.8 L428.3 371.9 L429.1 374.1 L429.9 376.4 L430.7 378.5 L431.5 380.5 L432.3 382.1 L433.1 383.3 L433.9 384.3 L434.7 385.1 L435.5 386.0 L436.3 387.3 L437.1 388.8 L437.9 389.9 L438.7 390.8 L439.5 391.8 L440.3 392.8 L441.1 393.8 L441.9 394.5 L442.7 395.0 L443.5 395.8 L444.3 396.2 L445.1 396.6 L445.9 397.3 L446.7 398.3 L447.5 399.1 L448.3 399.7 L449.1 400.5 L449.9 401.3 L450.7 401.5 L451.5 402.0 L452.3 403.1 L453.1 403.8 L453.9 403.5 L454.7 403.2 L455.5 403.9 L456.3 404.8 L457.1 405.4 L457.9 405.6 L458.7 405.4 L459.5 405.7 L460.3 406.1 L461.1 406.5 L461.9 406.7 L462.7 406.7 L463.5 406.3 L464.3 405.9 L465.1 406.1 L465.9 406.4 L466.7 406.8 L467.5 407.7 L468.3 408.0 L469.1 407.5 L469.9 407.1 L470.7 407.2 L471.5 407.6 L472.3 408.1 L473.1 408.2 L473.9 407.9 L474.7 407.4 L475.5 407.0 L476.3 407.1 L477.1 407.5 L477.9 408.0 L478.7 408.1 L479.5 407.8 L480.3 408.2 L481.1 408.5 L481.9 408.0 L482.7 407.7 L483.5 407.9 L484.3 407.9 L485.1 408.1 L485.9 408.8 L486.7 408.8 L487.5 408.0 L488.3 408.1 L489.1 408.4 L489.9 408.4 L490.7 408.3 L491.5 408.4 L492.3 408.6 L493.1 408.4 L493.9 408.3 L494.7 408.4 L495.5 408.4 L496.3 408.6 L497.1 408.8 L497.9 408.7 L498.7 408.5 L499.5 408.3 L500.3 407.9 L501.1 407.8 L501.9 408.0 L502.7 408.2 L503.5 408.0 L504.3 408.0 L505.1 408.4 L505.9 408.4 L506.7 408.2 L507.5 408.7 L508.3 408.7 L509.1 408.6 L509.9 408.8 L510.7 408.5 L511.5 408.6 L512.3 408.9 L513.1 408.4 L513.9 408.3 L514.7 408.5 L515.5 408.1 L516.3 408.2 L517.1 408.9 L517.9 409.1 L518.7 408.5 L519.5 408.3 L520.3 408.6 L521.1 408.3 L521.9 408.0 L522.7 408.3 L523.5 408.5 L524.3 408.7 L525.1 409.0 L525.9 408.9 L526.7 408.7 L527.5 408.3 L528.3 407.9 L529.1 408.1 L529.9 408.2 L530.7 408.2 L531.5 408.1 L532.3 408.2 L533.1 409.0 L533.9 409.2 L534.7 408.5 L535.5 408.2 L536.3 408.4 L537.1 408.7 L537.9 408.6 L538.7 408.3" stroke="#7f00ff" stroke-width="1.9"/>
<path d="M89.1 392.2 L89.9 392.6 L90.7 393.0 L91.5 393.4 L92.3 393.6 L93.1 393.9 L93.9 394.1 L94.7 394.3 L95.5 394.4 L96.3 394.4 L97.1 394.4 L97.9 394.5 L98.7 394.5 L99.5 394.5 L100.3 394.5 L101.1 394.3 L101.9 394.1 L102.7 394.0 L103.5 394.0 L104.3 393.9 L105.1 393.6 L105.9 393.3 L106.7 393.3 L107.5 393.3 L108.3 393.0 L109.1 392.7 L109.9 392.4 L110.7 392.1 L111.5 392.0 L112.3 391.8 L113.1 391.5 L113.9 391.2 L114.7 390.8 L115.5 390.4 L116.3 390.0 L117.1 389.8 L117.9 389.6 L118.7 389.1 L119.5 388.6 L120.3 388.1 L121.1 387.8 L121.9 387.5 L122.7 387.0 L123.5 386.5 L124.3 386.2 L125.1 386.0 L125.9 385.6 L126.7 385.0 L127.5 384.7 L128.3 384.4 L129.1 383.9 L129.9 383.5 L130.7 383.3 L131.5 383.0 L132.3 382.4 L133.1 381.9 L133.9 381.8 L134.7 381.5 L135.5 380.8 L136.3 380.3 L137.1 380.1 L137.9 379.8 L138.7 379.4 L139.5 379.0 L140.3 378.5 L141.1 378.2 L141.9 378.0 L142.7 377.5 L143.5 376.8 L144.3 376.6 L145.1 376.5 L145.9 376.0 L146.7 375.6 L147.5 375.4 L148.3 375.2 L149.1 374.9 L149.9 374.5 L150.7 374.1 L151.5 373.8 L152.3 373.5 L153.1 373.0 L153.9 372.6 L154.7 372.3 L155.5 372.0 L156.3 371.5 L157.1 371.0 L157.9 370.7 L158.7 370.3 L159.5 369.9 L160.3 369.4 L161.1 369.0 L161.9 368.5 L162.7 367.8 L163.5 367.2 L164.3 366.7 L165.1 366.1 L165.9 365.3 L166.7 364.4 L167.5 363.7 L168.3 363.2 L169.1 362.6 L169.9 361.7 L170.7 360.8 L171.5 360.1 L172.3 359.3 L173.1 358.5 L173.9 357.7 L174.7 356.7 L175.5 355.8 L176.3 354.9 L177.1 354.1 L177.9 353.3 L178.7 352.6 L179.5 351.8 L180.3 350.9 L181.1 349.8 L181.9 348.7 L182.7 347.6 L183.5 346.4 L184.3 345.3 L185.1 344.0 L185.9 342.6 L186.7 341.4 L187.5 340.2 L188.3 338.9 L189.1 337.8 L189.9 336.6 L190.7 335.2 L191.5 333.8 L192.3 332.4 L193.1 331.3 L193.9 330.1 L194.7 328.8 L195.5 327.8 L196.3 326.6 L197.1 325.3 L197.9 324.0 L198.7 322.9 L199.5 321.7 L200.3 320.4 L201.1 319.4 L201.9 318.5 L202.7 317.4 L203.5 316.2 L204.3 315.1 L205.1 314.1 L205.9 313.4 L206.7 312.7 L207.5 311.9 L208.3 311.5 L209.1 311.1 L209.9 310.5 L210.7 309.8 L211.5 309.3 L212.3 308.9 L213.1 308.8 L213.9 308.4 L214.7 307.9 L215.5 307.2 L216.3 306.7 L217.1 306.3 L217.9 305.8 L218.7 305.3 L219.5 304.8 L220.3 304.4 L221.1 303.8 L221.9 303.2 L222.7 302.7 L223.5 302.6 L224.3 302.4 L225.1 302.1 L225.9 301.7 L226.7 301.5 L227.5 301.2 L228.3 300.8 L229.1 300.3 L229.9 299.7 L230.7 299.1 L231.5 298.5 L232.3 297.6 L233.1 296.8 L233.9 296.0 L234.7 295.0 L235.5 293.9 L236.3 292.6 L237.1 291.2 L237.9 289.6 L238.7 288.0 L239.5 286.6 L240.3 285.2 L241.1 283.4 L241.9 281.6 L242.7 279.7 L243.5 277.6 L244.3 275.4 L245.1 273.4 L245.9 271.2 L246.7 269.0 L247.5 266.6 L248.3 264.1 L249.1 261.5 L249.9 258.9 L250.7 256.3 L251.5 253.6 L252.3 250.8 L253.1 248.4 L253.9 246.0 L254.7 243.1 L255.5 240.2 L256.3 237.4 L257.1 234.4 L257.9 230.6 L258.7 226.6 L259.5 222.9 L260.3 220.1 L261.1 217.7 L261.9 214.9 L262.7 211.7 L263.5 208.7 L264.3 205.8 L265.1 202.9 L265.9 200.0 L266.7 196.9 L267.5 194.0 L268.3 191.3 L269.1 188.7 L269.9 186.0 L270.7 183.4 L271.5 180.8 L272.3 178.0 L273.1 174.4 L273.9 170.8 L274.7 168.3 L275.5 166.1 L276.3 163.8 L277.1 161.6 L277.9 159.3 L278.7 156.8 L279.5 154.2 L280.3 151.9 L281.1 150.1 L281.9 148.9 L282.7 148.0 L283.5 147.0 L284.3 146.1 L285.1 145.3 L285.9 144.9 L286.7 144.6 L287.5 144.2 L288.3 143.8 L289.1 143.9 L289.9 144.5 L290.7 145.2 L291.5 146.4 L292.3 147.9 L293.1 149.5 L293.9 151.5 L294.7 153.6 L295.5 155.8 L296.3 158.0 L297.1 160.3 L297.9 162.9 L298.7 165.7 L299.5 168.5 L300.3 171.3 L301.1 174.2 L301.9 176.6 L302.7 178.9 L303.5 181.3 L304.3 183.5 L305.1 185.5 L305.9 187.5 L306.7 189.4 L307.5 191.5 L308.3 193.8 L309.1 196.0 L309.9 198.0 L310.7 200.2 L311.5 202.5 L312.3 204.5 L313.1 206.3 L313.9 207.8 L314.7 209.2 L315.5 210.7 L316.3 211.9 L317.1 212.9 L317.9 213.9 L318.7 214.9 L319.5 215.7 L320.3 216.1 L321.1 216.2 L321.9 216.2 L322.7 216.1 L323.5 215.8 L324.3 215.3 L325.1 214.7 L325.9 214.0 L326.7 213.3 L327.5 212.5 L328.3 211.5 L329.1 209.9 L329.9 208.0 L330.7 206.4 L331.5 204.8 L332.3 202.9 L333.1 200.6 L333.9 198.2 L334.7 196.0 L335.5 193.6 L336.3 191.3 L337.1 189.1 L337.9 187.2 L338.7 185.0 L339.5 182.3 L340.3 179.6 L341.1 176.8 L341.9 174.0 L342.7 171.1 L343.5 168.1 L344.3 165.3 L345.1 162.6 L345.9 159.8 L346.7 156.7 L347.5 153.8 L348.3 151.1 L349.1 148.3 L349.9 145.6 L350.7 142.9 L351.5 140.3 L352.3 137.7 L353.1 135.1 L353.9 132.4 L354.7 129.3 L355.5 126.3 L356.3 123.3 L357.1 120.2 L357.9 116.9 L358.7 113.6 L359.5 110.1 L360.3 106.7 L361.1 103.5 L361.9 100.3 L362.7 97.5 L363.5 95.2 L364.3 93.0 L365.1 90.4 L365.9 87.7 L366.7 85.1 L367.5 82.7 L368.3 80.6 L369.1 78.5 L369.9 76.5 L370.7 74.8 L371.5 73.5 L372.3 72.3 L373.1 71.7 L373.9 71.5 L374.7 71.5 L375.5 72.0 L376.3 72.4 L377.1 73.0 L377.9 74.2 L378.7 76.0 L379.5 78.7 L380.3 81.8 L381.1 85.3 L381.9 89.1 L382.7 92.9 L383.5 97.0 L384.3 101.1 L385.1 105.0 L385.9 109.1 L386.7 113.5 L387.5 117.8 L388.3 122.2 L389.1 126.6 L389.9 130.9 L390.7 135.1 L391.5 140.2 L392.3 146.1 L393.1 152.2 L393.9 158.3 L394.7 164.5 L395.5 171.2 L396.3 181.0 L397.1 189.6 L397.9 197.2 L398.7 204.5 L399.5 211.9 L400.3 218.4 L401.1 225.0 L401.9 234.7 L402.7 242.4 L403.5 249.3 L404.3 256.1 L405.1 262.9 L405.9 269.8 L406.7 276.4 L407.5 282.8 L408.3 289.4 L409.1 295.4 L409.9 300.6 L410.7 305.0 L411.5 309.1 L412.3 313.1 L413.1 317.2 L413.9 321.3 L414.7 325.4 L415.5 329.5 L416.3 333.5 L417.1 337.0 L417.9 340.2 L418.7 343.2 L419.5 345.8 L420.3 348.2 L421.1 350.8 L421.9 353.4 L422.7 355.9 L423.5 358.2 L424.3 360.4 L425.1 362.6 L425.9 364.9 L426.7 367.0 L427.5 368.8 L428.3 370.2 L429.1 372.0 L429.9 374.3 L430.7 376.4 L431.5 378.0 L432.3 379.3 L433.1 380.4 L433.9 381.2 L434.7 381.9 L435.5 382.9 L436.3 383.8 L437.1 384.7 L437.9 386.0 L438.7 386.8 L439.5 387.2 L440.3 387.8 L441.1 388.9 L441.9 390.0 L442.7 390.5 L443.5 390.9 L444.3 391.5 L445.1 392.3 L445.9 393.4 L446.7 394.5 L447.5 395.0 L448.3 395.3 L449.1 396.1 L449.9 396.8 L450.7 397.2 L451.5 398.1 L452.3 399.1 L453.1 399.4 L453.9 399.6 L454.7 399.7 L455.5 399.8 L456.3 399.9 L457.1 400.8 L457.9 401.9 L458.7 402.6 L459.5 402.6 L460.3 402.3 L461.1 402.1 L461.9 402.0 L462.7 402.3 L463.5 402.6 L464.3 402.6 L465.1 402.7 L465.9 402.3 L466.7 401.9 L467.5 402.0 L468.3 402.0 L469.1 402.5 L469.9 403.3 L470.7 403.4 L471.5 403.5 L472.3 404.0 L473.1 404.0 L473.9 403.8 L474.7 404.1 L475.5 404.1 L476.3 403.9 L477.1 403.8 L477.9 403.3 L478.7 403.4 L479.5 404.0 L480.3 404.2 L481.1 404.1 L481.9 404.2 L482.7 404.8 L483.5 405.1 L484.3 405.0 L485.1 404.8 L485.9 404.4 L486.7 404.2 L487.5 404.4 L488.3 404.3 L489.1 404.5 L489.9 405.0 L490.7 404.6 L491.5 404.3 L492.3 404.9 L493.1 405.4 L493.9 405.2 L494.7 405.0 L495.5 404.7 L496.3 404.3 L497.1 404.4 L497.9 404.9 L498.7 405.2 L499.5 405.0 L500.3 405.1 L501.1 404.8 L501.9 404.8 L502.7 405.3 L503.5 405.4 L504.3 404.9 L505.1 404.5 L505.9 404.7 L506.7 405.2 L507.5 405.8 L508.3 405.5 L509.1 404.9 L509.9 404.6 L510.7 404.5 L511.5 404.8 L512.3 405.2 L513.1 405.3 L513.9 405.2 L514.7 404.9 L515.5 405.1 L516.3 405.4 L517.1 404.8 L517.9 404.5 L518.7 404.8 L519.5 404.8 L520.3 405.0 L521.1 405.3 L521.9 405.3 L522.7 405.3 L523.5 405.4 L524.3 405.9 L525.1 405.9 L525.9 405.3 L526.7 405.0 L527.5 405.0 L528.3 405.4 L529.1 405.5 L529.9 405.1 L530.7 405.1 L531.5 404.8 L532.3 404.4 L533.1 404.9 L533.9 405.7 L534.7 405.7 L535.5 405.2 L536.3 405.3 L537.1 405.1 L537.9 404.7 L538.7 404.9" stroke="#008000" stroke-width="1.9"/>
<path d="M89.1 398.7 L89.9 398.8 L90.7 398.9 L91.5 399.1 L92.3 399.2 L93.1 399.3 L93.9 399.4 L94.7 399.4 L95.5 399.3 L96.3 399.3 L97.1 399.2 L97.9 399.3 L98.7 399.3 L99.5 399.1 L100.3 398.7 L101.1 398.4 L101.9 398.5 L102.7 398.4 L103.5 398.0 L104.3 397.6 L105.1 397.5 L105.9 397.5 L106.7 397.1 L107.5 396.9 L108.3 396.8 L109.1 396.6 L109.9 396.2 L110.7 395.8 L111.5 395.6 L112.3 395.4 L113.1 395.1 L113.9 394.5 L114.7 393.9 L115.5 393.5 L116.3 393.3 L117.1 392.9 L117.9 392.6 L118.7 392.2 L119.5 391.8 L120.3 391.4 L121.1 390.9 L121.9 390.4 L122.7 390.1 L123.5 389.8 L124.3 389.2 L125.1 388.8 L125.9 388.5 L126.7 388.0 L127.5 387.5 L128.3 387.1 L129.1 386.9 L129.9 386.6 L130.7 386.2 L131.5 385.7 L132.3 385.2 L133.1 384.7 L133.9 384.3 L134.7 383.9 L135.5 383.6 L136.3 383.3 L137.1 382.8 L137.9 382.4 L138.7 382.0 L139.5 381.5 L140.3 381.0 L141.1 380.6 L141.9 380.2 L142.7 379.9 L143.5 379.6 L144.3 379.3 L145.1 378.9 L145.9 378.6 L146.7 378.2 L147.5 377.9 L148.3 377.6 L149.1 377.3 L149.9 377.0 L150.7 376.7 L151.5 376.3 L152.3 375.7 L153.1 375.3 L153.9 375.0 L154.7 374.8 L155.5 374.4 L156.3 374.0 L157.1 373.6 L157.9 373.1 L158.7 372.5 L159.5 371.9 L160.3 371.4 L161.1 371.0 L161.9 370.6 L162.7 370.1 L163.5 369.5 L164.3 369.0 L165.1 368.4 L165.9 367.7 L166.7 367.0 L167.5 366.3 L168.3 365.4 L169.1 364.6 L169.9 363.9 L170.7 363.2 L171.5 362.2 L172.3 361.5 L173.1 360.8 L173.9 359.9 L174.7 359.0 L175.5 358.2 L176.3 357.3 L177.1 356.6 L177.9 355.9 L178.7 355.0 L179.5 354.0 L180.3 353.0 L181.1 352.0 L181.9 350.9 L182.7 349.7 L183.5 348.5 L184.3 347.3 L185.1 346.1 L185.9 344.9 L186.7 343.4 L187.5 342.0 L188.3 341.0 L189.1 339.9 L189.9 338.5 L190.7 336.9 L191.5 335.5 L192.3 334.3 L193.1 333.0 L193.9 331.7 L194.7 330.5 L195.5 329.3 L196.3 327.9 L197.1 326.4 L197.9 325.1 L198.7 323.8 L199.5 322.4 L200.3 321.2 L201.1 320.2 L201.9 319.0 L202.7 317.8 L203.5 316.9 L204.3 315.9 L205.1 314.8 L205.9 313.8 L206.7 312.9 L207.5 312.1 L208.3 311.6 L209.1 311.1 L209.9 310.8 L210.7 310.4 L211.5 309.9 L212.3 309.4 L213.1 308.9 L213.9 308.3 L214.7 307.8 L215.5 307.4 L216.3 307.0 L217.1 306.7 L217.9 306.3 L218.7 306.0 L219.5 305.6 L220.3 305.0 L221.1 304.5 L221.9 304.1 L222.7 303.8 L223.5 303.5 L224.3 303.3 L225.1 303.3 L225.9 303.1 L226.7 303.0 L227.5 302.7 L228.3 302.2 L229.1 301.8 L229.9 301.4 L230.7 300.8 L231.5 300.2 L232.3 299.5 L233.1 298.8 L233.9 297.8 L234.7 296.7 L235.5 295.6 L236.3 294.6 L237.1 293.4 L237.9 292.1 L238.7 290.7 L239.5 289.3 L240.3 287.8 L241.1 286.1 L241.9 284.2 L242.7 282.3 L243.5 280.4 L244.3 278.5 L245.1 276.4 L245.9 274.4 L246.7 272.4 L247.5 270.2 L248.3 267.9 L249.1 265.7 L249.9 263.6 L250.7 261.5 L251.5 259.2 L252.3 257.0 L253.1 254.8 L253.9 252.6 L254.7 250.3 L255.5 247.8 L256.3 245.1 L257.1 242.2 L257.9 238.9 L258.7 235.3 L259.5 231.6 L260.3 228.1 L261.1 224.7 L261.9 221.4 L262.7 218.4 L263.5 215.5 L264.3 212.5 L265.1 209.4 L265.9 206.4 L266.7 203.4 L267.5 200.3 L268.3 197.2 L269.1 194.5 L269.9 191.8 L270.7 188.9 L271.5 186.3 L272.3 184.0 L273.1 181.3 L273.9 178.7 L274.7 176.3 L275.5 174.0 L276.3 171.5 L277.1 169.0 L277.9 166.6 L278.7 164.2 L279.5 162.0 L280.3 159.6 L281.1 157.2 L281.9 155.3 L282.7 154.0 L283.5 152.8 L284.3 151.5 L285.1 150.4 L285.9 149.6 L286.7 148.9 L287.5 148.5 L288.3 148.4 L289.1 148.5 L289.9 149.1 L290.7 149.9 L291.5 150.9 L292.3 152.2 L293.1 153.9 L293.9 155.9 L294.7 158.0 L295.5 160.1 L296.3 162.2 L297.1 164.6 L297.9 167.1 L298.7 169.7 L299.5 172.3 L300.3 175.0 L301.1 177.6 L301.9 180.2 L302.7 182.7 L303.5 185.0 L304.3 187.1 L305.1 188.9 L305.9 190.8 L306.7 192.8 L307.5 195.0 L308.3 197.3 L309.1 199.4 L309.9 201.4 L310.7 203.6 L311.5 205.6 L312.3 207.5 L313.1 209.2 L313.9 210.6 L314.7 211.9 L315.5 213.4 L316.3 214.8 L317.1 215.8 L317.9 216.6 L318.7 217.4 L319.5 218.3 L320.3 218.9 L321.1 218.9 L321.9 218.4 L322.7 217.9 L323.5 217.4 L324.3 216.7 L325.1 216.1 L325.9 215.6 L326.7 214.8 L327.5 213.6 L328.3 212.5 L329.1 210.8 L329.9 208.9 L330.7 206.9 L331.5 204.8 L332.3 202.6 L333.1 200.3 L333.9 198.1 L334.7 195.9 L335.5 193.4 L336.3 191.0 L337.1 188.7 L337.9 186.5 L338.7 184.3 L339.5 181.7 L340.3 178.6 L341.1 175.5 L341.9 172.7 L342.7 169.8 L343.5 166.8 L344.3 164.0 L345.1 161.2 L345.9 158.1 L346.7 155.1 L347.5 152.2 L348.3 149.0 L349.1 146.0 L349.9 143.2 L350.7 140.5 L351.5 137.8 L352.3 135.0 L353.1 132.4 L353.9 129.8 L354.7 126.7 L355.5 123.2 L356.3 119.9 L357.1 116.6 L357.9 113.1 L358.7 109.4 L359.5 105.8 L360.3 102.2 L361.1 98.8 L361.9 95.5 L362.7 92.7 L363.5 90.3 L364.3 87.9 L365.1 85.1 L365.9 82.3 L366.7 79.6 L367.5 77.1 L368.3 74.8 L369.1 72.6 L369.9 70.5 L370.7 68.5 L371.5 66.8 L372.3 65.7 L373.1 65.2 L373.9 65.1 L374.7 65.2 L375.5 65.5 L376.3 65.9 L377.1 66.6 L377.9 67.7 L378.7 69.6 L379.5 72.4 L380.3 75.5 L381.1 79.0 L381.9 82.8 L382.7 86.9 L383.5 91.1 L384.3 95.2 L385.1 99.3 L385.9 103.4 L386.7 107.8 L387.5 112.2 L388.3 116.6 L389.1 120.9 L389.9 125.4 L390.7 130.0 L391.5 135.2 L392.3 141.2 L393.1 147.5 L393.9 153.8 L394.7 160.0 L395.5 166.8 L396.3 176.7 L397.1 185.6 L397.9 193.6 L398.7 201.2 L399.5 208.8 L400.3 215.4 L401.1 222.1 L401.9 232.2 L402.7 240.0 L403.5 246.9 L404.3 253.6 L405.1 260.6 L405.9 267.6 L406.7 274.6 L407.5 281.7 L408.3 288.3 L409.1 294.2 L409.9 299.3 L410.7 303.8 L411.5 307.9 L412.3 311.9 L413.1 316.1 L413.9 320.4 L414.7 324.6 L415.5 328.9 L416.3 333.0 L417.1 336.5 L417.9 339.7 L418.7 342.5 L419.5 345.1 L420.3 347.7 L421.1 350.1 L421.9 352.7 L422.7 355.3 L423.5 357.8 L424.3 360.0 L425.1 362.4 L425.9 364.8 L426.7 367.3 L427.5 369.8 L428.3 372.2 L429.1 375.0 L429.9 378.1 L430.7 380.7 L431.5 383.0 L432.3 384.7 L433.1 385.9 L433.9 387.2 L434.7 388.5 L435.5 389.8 L436.3 391.3 L437.1 392.8 L437.9 394.1 L438.7 395.3 L439.5 396.3 L440.3 397.0 L441.1 397.7 L441.9 398.6 L442.7 399.1 L443.5 399.8 L444.3 401.0 L445.1 401.6 L445.9 402.0 L446.7 402.7 L447.5 403.1 L448.3 403.2 L449.1 403.6 L449.9 404.2 L450.7 404.8 L451.5 405.5 L452.3 406.4 L453.1 406.6 L453.9 406.6 L454.7 406.8 L455.5 407.1 L456.3 407.7 L457.1 408.4 L457.9 408.2 L458.7 407.9 L459.5 408.4 L460.3 409.1 L461.1 409.5 L461.9 409.5 L462.7 409.3 L463.5 409.4 L464.3 409.6 L465.1 409.9 L465.9 410.3 L466.7 410.3 L467.5 410.2 L468.3 410.1 L469.1 409.8 L469.9 410.0 L470.7 410.6 L471.5 410.6 L472.3 410.1 L473.1 410.3 L473.9 411.2 L474.7 411.9 L475.5 412.0 L476.3 411.4 L477.1 410.8 L477.9 411.1 L478.7 411.7 L479.5 411.8 L480.3 411.7 L481.1 411.9 L481.9 412.5 L482.7 412.6 L483.5 411.8 L484.3 411.8 L485.1 412.3 L485.9 412.3 L486.7 412.6 L487.5 412.7 L488.3 412.1 L489.1 412.0 L489.9 412.1 L490.7 412.3 L491.5 412.7 L492.3 413.0 L493.1 412.8 L493.9 412.5 L494.7 412.6 L495.5 412.3 L496.3 412.5 L497.1 412.9 L497.9 412.4 L498.7 412.0 L499.5 412.1 L500.3 411.6 L501.1 411.7 L501.9 412.3 L502.7 412.3 L503.5 412.1 L504.3 412.1 L505.1 411.9 L505.9 412.0 L506.7 412.8 L507.5 413.6 L508.3 413.4 L509.1 412.7 L509.9 412.2 L510.7 412.1 L511.5 412.3 L512.3 412.6 L513.1 412.7 L513.9 412.6 L514.7 412.5 L515.5 412.1 L516.3 412.1 L517.1 412.3 L517.9 412.0 L518.7 411.9 L519.5 412.2 L520.3 412.4 L521.1 412.8 L521.9 413.1 L522.7 413.0 L523.5 412.8 L524.3 412.9 L525.1 412.6 L525.9 412.2 L526.7 412.3 L527.5 412.2 L528.3 412.1 L529.1 412.4 L529.9 412.6 L530.7 413.0 L531.5 412.8 L532.3 412.0 L533.1 412.6 L533.9 413.5 L534.7 413.6 L535.5 413.4 L536.3 412.7 L537.1 412.0 L537.9 412.1 L538.7 412.7" stroke="#00ffff" stroke-width="1.9"/>
<path d="M89.1 396.7 L89.9 396.9 L90.7 397.1 L91.5 397.3 L92.3 397.4 L93.1 397.7 L93.9 398.1 L94.7 398.2 L95.5 398.1 L96.3 398.0 L97.1 397.8 L97.9 397.5 L98.7 397.5 L99.5 397.6 L100.3 397.6 L101.1 397.6 L101.9 397.4 L102.7 397.0 L103.5 396.8 L104.3 396.8 L105.1 396.6 L105.9 396.1 L106.7 395.9 L107.5 395.8 L108.3 395.7 L109.1 395.3 L109.9 395.0 L110.7 394.8 L111.5 394.6 L112.3 394.3 L113.1 393.9 L113.9 393.4 L114.7 392.9 L115.5 392.4 L116.3 391.8 L117.1 391.6 L117.9 391.5 L118.7 391.0 L119.5 390.5 L120.3 390.1 L121.1 389.6 L121.9 389.3 L122.7 389.1 L123.5 388.7 L124.3 388.2 L125.1 387.9 L125.9 387.6 L126.7 387.1 L127.5 386.6 L128.3 385.9 L129.1 385.5 L129.9 385.3 L130.7 385.0 L131.5 384.5 L132.3 384.1 L133.1 383.7 L133.9 383.5 L134.7 383.1 L135.5 382.5 L136.3 382.0 L137.1 381.8 L137.9 381.5 L138.7 381.0 L139.5 380.7 L140.3 380.4 L141.1 379.9 L141.9 379.3 L142.7 378.7 L143.5 378.4 L144.3 378.1 L145.1 377.9 L145.9 377.6 L146.7 377.3 L147.5 377.1 L148.3 376.6 L149.1 376.3 L149.9 376.0 L150.7 375.6 L151.5 375.4 L152.3 375.0 L153.1 374.6 L153.9 374.3 L154.7 373.8 L155.5 373.3 L156.3 372.7 L157.1 372.1 L157.9 371.8 L158.7 371.4 L159.5 371.0 L160.3 370.5 L161.1 369.8 L161.9 369.2 L162.7 368.9 L163.5 368.5 L164.3 367.9 L165.1 367.2 L165.9 366.6 L166.7 366.0 L167.5 365.3 L168.3 364.4 L169.1 363.6 L169.9 362.9 L170.7 362.2 L171.5 361.4 L172.3 360.6 L173.1 359.7 L173.9 358.8 L174.7 358.1 L175.5 357.3 L176.3 356.4 L177.1 355.5 L177.9 354.6 L178.7 353.9 L179.5 353.0 L180.3 352.0 L181.1 351.0 L181.9 349.7 L182.7 348.6 L183.5 347.6 L184.3 346.2 L185.1 344.8 L185.9 343.8 L186.7 342.5 L187.5 341.1 L188.3 339.8 L189.1 338.4 L189.9 337.1 L190.7 335.9 L191.5 334.7 L192.3 333.4 L193.1 332.1 L193.9 330.9 L194.7 329.7 L195.5 328.6 L196.3 327.3 L197.1 326.0 L197.9 324.5 L198.7 323.3 L199.5 322.3 L200.3 321.4 L201.1 320.1 L201.9 318.9 L202.7 317.8 L203.5 316.7 L204.3 315.7 L205.1 314.8 L205.9 314.0 L206.7 313.3 L207.5 312.6 L208.3 311.9 L209.1 311.3 L209.9 311.0 L210.7 310.9 L211.5 310.7 L212.3 310.0 L213.1 309.3 L213.9 308.9 L214.7 308.5 L215.5 307.9 L216.3 307.4 L217.1 307.0 L217.9 306.6 L218.7 306.3 L219.5 305.8 L220.3 305.1 L221.1 304.5 L221.9 304.0 L222.7 303.8 L223.5 303.7 L224.3 303.6 L225.1 303.3 L225.9 303.1 L226.7 302.8 L227.5 302.5 L228.3 302.1 L229.1 301.9 L229.9 301.6 L230.7 301.0 L231.5 300.2 L232.3 299.5 L233.1 298.9 L233.9 297.9 L234.7 296.6 L235.5 295.5 L236.3 294.6 L237.1 293.4 L237.9 292.0 L238.7 290.6 L239.5 289.2 L240.3 287.8 L241.1 286.0 L241.9 284.1 L242.7 282.3 L243.5 280.6 L244.3 278.5 L245.1 276.3 L245.9 274.2 L246.7 272.1 L247.5 269.9 L248.3 267.7 L249.1 265.5 L249.9 263.4 L250.7 261.3 L251.5 259.2 L252.3 257.1 L253.1 254.7 L253.9 252.4 L254.7 250.0 L255.5 247.3 L256.3 244.7 L257.1 242.1 L257.9 238.9 L258.7 235.2 L259.5 231.3 L260.3 227.8 L261.1 224.8 L261.9 221.8 L262.7 218.6 L263.5 215.4 L264.3 212.3 L265.1 209.4 L265.9 206.6 L266.7 203.6 L267.5 200.4 L268.3 197.5 L269.1 194.7 L269.9 192.0 L270.7 189.3 L271.5 186.5 L272.3 183.8 L273.1 181.3 L273.9 179.1 L274.7 176.7 L275.5 174.1 L276.3 171.8 L277.1 169.5 L277.9 167.1 L278.7 164.7 L279.5 162.6 L280.3 160.4 L281.1 158.4 L281.9 156.6 L282.7 154.9 L283.5 153.6 L284.3 152.4 L285.1 151.2 L285.9 150.5 L286.7 150.1 L287.5 149.8 L288.3 149.8 L289.1 150.0 L289.9 150.4 L290.7 151.1 L291.5 152.2 L292.3 153.6 L293.1 154.9 L293.9 156.5 L294.7 158.5 L295.5 160.6 L296.3 162.5 L297.1 164.3 L297.9 166.5 L298.7 168.9 L299.5 171.4 L300.3 174.2 L301.1 176.9 L301.9 179.1 L302.7 181.4 L303.5 183.6 L304.3 185.4 L305.1 187.4 L305.9 189.3 L306.7 191.2 L307.5 193.1 L308.3 195.0 L309.1 197.1 L309.9 199.3 L310.7 201.4 L311.5 203.5 L312.3 205.3 L313.1 207.0 L313.9 208.5 L314.7 209.8 L315.5 211.0 L316.3 212.3 L317.1 213.5 L317.9 214.3 L318.7 214.9 L319.5 215.7 L320.3 216.3 L321.1 216.3 L321.9 216.2 L322.7 216.0 L323.5 215.4 L324.3 214.6 L325.1 214.1 L325.9 213.6 L326.7 212.8 L327.5 211.8 L328.3 210.5 L329.1 208.7 L329.9 206.9 L330.7 205.1 L331.5 203.3 L332.3 201.2 L333.1 198.6 L333.9 196.0 L334.7 193.8 L335.5 191.7 L336.3 189.3 L337.1 186.9 L337.9 184.6 L338.7 182.3 L339.5 179.7 L340.3 176.7 L341.1 173.6 L341.9 170.6 L342.7 167.6 L343.5 164.4 L344.3 161.5 L345.1 158.7 L345.9 155.7 L346.7 152.7 L347.5 149.6 L348.3 146.7 L349.1 143.9 L349.9 140.9 L350.7 137.9 L351.5 135.1 L352.3 132.3 L353.1 129.8 L353.9 127.0 L354.7 123.8 L355.5 120.4 L356.3 116.9 L357.1 113.2 L357.9 109.6 L358.7 106.0 L359.5 102.4 L360.3 98.8 L361.1 95.2 L361.9 91.9 L362.7 89.2 L363.5 86.8 L364.3 84.3 L365.1 81.5 L365.9 78.6 L366.7 75.8 L367.5 73.2 L368.3 70.9 L369.1 68.5 L369.9 66.2 L370.7 64.1 L371.5 62.1 L372.3 60.9 L373.1 60.6 L373.9 60.5 L374.7 60.6 L375.5 60.9 L376.3 61.3 L377.1 61.8 L377.9 63.0 L378.7 65.0 L379.5 67.7 L380.3 70.9 L381.1 74.4 L381.9 78.2 L382.7 82.1 L383.5 86.3 L384.3 90.6 L385.1 94.9 L385.9 99.3 L386.7 103.6 L387.5 107.8 L388.3 112.0 L389.1 116.5 L389.9 121.1 L390.7 125.7 L391.5 131.2 L392.3 137.0 L393.1 143.0 L393.9 149.5 L394.7 156.0 L395.5 163.0 L396.3 173.2 L397.1 182.3 L397.9 190.5 L398.7 198.4 L399.5 206.0 L400.3 212.7 L401.1 219.6 L401.9 229.6 L402.7 237.2 L403.5 244.4 L404.3 251.7 L405.1 258.9 L405.9 266.1 L406.7 273.3 L407.5 280.3 L408.3 287.0 L409.1 293.1 L409.9 298.4 L410.7 302.9 L411.5 307.2 L412.3 311.4 L413.1 315.2 L413.9 319.2 L414.7 323.6 L415.5 327.9 L416.3 332.1 L417.1 335.9 L417.9 339.0 L418.7 341.7 L419.5 344.2 L420.3 346.6 L421.1 348.9 L421.9 351.4 L422.7 354.0 L423.5 356.5 L424.3 358.9 L425.1 361.1 L425.9 363.1 L426.7 365.0 L427.5 367.0 L428.3 368.7 L429.1 370.5 L429.9 372.8 L430.7 375.2 L431.5 377.4 L432.3 379.0 L433.1 380.5 L433.9 381.9 L434.7 383.2 L435.5 384.3 L436.3 385.1 L437.1 386.4 L437.9 388.0 L438.7 389.1 L439.5 390.0 L440.3 391.0 L441.1 391.9 L441.9 392.5 L442.7 393.1 L443.5 394.1 L444.3 395.2 L445.1 396.3 L445.9 397.0 L446.7 397.6 L447.5 398.5 L448.3 398.6 L449.1 398.4 L449.9 399.3 L450.7 400.9 L451.5 401.5 L452.3 401.5 L453.1 401.8 L453.9 402.6 L454.7 403.6 L455.5 404.2 L456.3 404.7 L457.1 404.3 L457.9 404.0 L458.7 404.9 L459.5 405.3 L460.3 405.7 L461.1 406.3 L461.9 406.4 L462.7 406.6 L463.5 406.4 L464.3 406.4 L465.1 406.6 L465.9 407.0 L466.7 407.5 L467.5 407.7 L468.3 407.6 L469.1 407.8 L469.9 407.8 L470.7 407.8 L471.5 408.0 L472.3 408.1 L473.1 408.0 L473.9 407.9 L474.7 408.2 L475.5 408.4 L476.3 408.2 L477.1 408.2 L477.9 408.6 L478.7 408.8 L479.5 408.8 L480.3 409.2 L481.1 409.7 L481.9 409.2 L482.7 408.6 L483.5 409.1 L484.3 409.6 L485.1 409.6 L485.9 409.8 L486.7 409.9 L487.5 409.7 L488.3 409.4 L489.1 409.2 L489.9 409.4 L490.7 409.6 L491.5 409.9 L492.3 409.8 L493.1 409.6 L493.9 409.7 L494.7 409.5 L495.5 409.0 L496.3 409.0 L497.1 409.3 L497.9 409.5 L498.7 409.6 L499.5 409.5 L500.3 409.5 L501.1 409.9 L501.9 409.7 L502.7 409.3 L503.5 409.3 L504.3 409.8 L505.1 410.2 L505.9 409.9 L506.7 409.7 L507.5 409.8 L508.3 409.8 L509.1 410.1 L509.9 410.5 L510.7 410.4 L511.5 410.5 L512.3 410.3 L513.1 410.1 L513.9 410.5 L514.7 410.7 L515.5 410.3 L516.3 410.0 L517.1 410.2 L517.9 410.2 L518.7 410.3 L519.5 410.8 L520.3 410.5 L521.1 410.0 L521.9 410.2 L522.7 410.5 L523.5 410.6 L524.3 410.6 L525.1 410.8 L525.9 410.5 L526.7 409.7 L527.5 409.4 L528.3 409.6 L529.1 410.1 L529.9 410.6 L530.7 410.3 L531.5 409.7 L532.3 409.9 L533.1 410.2 L533.9 409.9 L534.7 409.9 L535.5 409.7 L536.3 409.5 L537.1 409.9 L537.9 410.3 L538.7 410.2" stroke="#800000" stroke-width="1.9"/>
<path d="M96.3 396.5 L97.1 396.5 L97.9 396.5 L98.7 396.3 L99.5 396.1 L100.3 396.1 L101.1 395.9 L101.9 395.6 L102.7 395.4 L103.5 395.1 L104.3 394.9 L105.1 394.7 L105.9 394.6 L106.7 394.4 L107.5 394.2 L108.3 394.0 L109.1 393.5 L109.9 393.1 L110.7 392.9 L111.5 392.7 L112.3 392.4 L113.1 391.9 L113.9 391.5 L114.7 391.1 L115.5 390.8 L116.3 390.5 L117.1 390.1 L117.9 389.7 L118.7 389.4 L119.5 388.9 L120.3 388.5 L121.1 388.2 L121.9 387.7 L122.7 387.2 L123.5 387.0 L124.3 386.6 L125.1 386.1 L125.9 385.8 L126.7 385.4 L127.5 385.0 L128.3 384.8 L129.1 384.3 L129.9 383.7 L130.7 383.3 L131.5 383.0 L132.3 382.6 L133.1 382.2 L133.9 381.8 L134.7 381.5 L135.5 381.1 L136.3 380.5 L137.1 380.1 L137.9 379.7 L138.7 379.2 L139.5 378.7 L140.3 378.4 L141.1 378.1 L141.9 377.9 L142.7 377.4 L143.5 376.8 L144.3 376.5 L145.1 376.2 L145.9 375.8 L146.7 375.5 L147.5 375.4 L148.3 375.3 L149.1 374.9 L149.9 374.4 L150.7 374.0 L151.5 373.8 L152.3 373.5 L153.1 373.0 L153.9 372.5 L154.7 372.1 L155.5 371.7 L156.3 371.2 L157.1 370.7 L157.9 370.3 L158.7 369.9 L159.5 369.6 L160.3 369.1 L161.1 368.5 L161.9 368.0 L162.7 367.4 L163.5 366.9 L164.3 366.3 L165.1 365.6 L165.9 364.8 L166.7 364.1 L167.5 363.2 L168.3 362.3 L169.1 361.7 L169.9 360.9 L170.7 360.3 L171.5 359.6 L172.3 358.5 L173.1 357.5 L173.9 356.8 L174.7 356.0 L175.5 355.1 L176.3 354.2 L177.1 353.4 L177.9 352.5 L178.7 351.4 L179.5 350.4 L180.3 349.4 L181.1 348.3 L181.9 347.3 L182.7 346.2 L183.5 345.0 L184.3 343.8 L185.1 342.4 L185.9 341.0 L186.7 339.7 L187.5 338.2 L188.3 337.0 L189.1 335.8 L189.9 334.4 L190.7 333.2 L191.5 331.9 L192.3 330.7 L193.1 329.5 L193.9 328.3 L194.7 326.9 L195.5 325.6 L196.3 324.5 L197.1 323.4 L197.9 321.9 L198.7 320.6 L199.5 319.3 L200.3 318.0 L201.1 316.9 L201.9 315.6 L202.7 314.3 L203.5 313.0 L204.3 311.8 L205.1 310.8 L205.9 309.9 L206.7 309.1 L207.5 308.2 L208.3 307.4 L209.1 306.5 L209.9 305.8 L210.7 305.1 L211.5 304.5 L212.3 303.8 L213.1 303.1 L213.9 302.5 L214.7 302.0 L215.5 301.7 L216.3 301.0 L217.1 300.4 L217.9 300.2 L218.7 299.7 L219.5 299.0 L220.3 298.5 L221.1 297.9 L221.9 297.4 L222.7 296.9 L223.5 296.4 L224.3 295.7 L225.1 295.0 L225.9 294.4 L226.7 293.7 L227.5 293.0 L228.3 292.2 L229.1 291.5 L229.9 290.9 L230.7 290.0 L231.5 289.0 L232.3 287.9 L233.1 286.8 L233.9 285.6 L234.7 284.5 L235.5 283.2 L236.3 281.8 L237.1 280.4 L237.9 279.1 L238.7 277.6 L239.5 275.9 L240.3 274.2 L241.1 272.5 L241.9 271.1 L242.7 269.4 L243.5 267.7 L244.3 265.9 L245.1 264.3 L245.9 262.5 L246.7 260.7 L247.5 258.8 L248.3 256.9 L249.1 255.0 L249.9 253.1 L250.7 251.2 L251.5 249.2" stroke="#ff0000" stroke-width="1.9"/>
</g>
<g stroke="#0a0a0a" stroke-width="1.7" fill="none" stroke-linecap="butt">
<path d="M89.1 9.5 V422.0"/>
<path d="M82.1 414.5 H539.3"/>
<path d="M85.5 378.9 H89.1"/>
<path d="M82.1 343.2 H89.1"/>
<path d="M85.5 307.6 H89.1"/>
<path d="M82.1 271.9 H89.1"/>
<path d="M85.5 236.3 H89.1"/>
<path d="M82.1 200.7 H89.1"/>
<path d="M85.5 165.0 H89.1"/>
<path d="M82.1 129.4 H89.1"/>
<path d="M85.5 93.7 H89.1"/>
<path d="M82.1 58.1 H89.1"/>
<path d="M85.5 22.5 H89.1"/>
<path d="M129.2 414.5 V418.1"/>
<path d="M169.3 414.5 V422.0"/>
<path d="M209.5 414.5 V418.1"/>
<path d="M249.6 414.5 V422.0"/>
<path d="M289.7 414.5 V418.1"/>
<path d="M329.9 414.5 V422.0"/>
<path d="M370.0 414.5 V418.1"/>
<path d="M410.1 414.5 V422.0"/>
<path d="M450.2 414.5 V418.1"/>
<path d="M490.4 414.5 V422.0"/>
<path d="M530.5 414.5 V418.1"/>
</g>
<g font-family="'Liberation Sans', Arial, Helvetica, sans-serif" font-size="15.6" fill="#111" stroke="#111" stroke-width="0.3">
<text x="76.2" y="419.6" text-anchor="end" textLength="29.0" lengthAdjust="spacingAndGlyphs">0.00</text>
<text x="76.2" y="348.3" text-anchor="end" textLength="29.0" lengthAdjust="spacingAndGlyphs">0.03</text>
<text x="76.2" y="277.0" text-anchor="end" textLength="29.0" lengthAdjust="spacingAndGlyphs">0.06</text>
<text x="76.2" y="205.8" text-anchor="end" textLength="29.0" lengthAdjust="spacingAndGlyphs">0.09</text>
<text x="76.2" y="134.5" text-anchor="end" textLength="29.0" lengthAdjust="spacingAndGlyphs">0.12</text>
<text x="76.2" y="63.2" text-anchor="end" textLength="29.0" lengthAdjust="spacingAndGlyphs">0.15</text>
<text x="89.1" y="441.2" text-anchor="middle" textLength="24.8" lengthAdjust="spacingAndGlyphs">500</text>
<text x="169.3" y="441.2" text-anchor="middle" textLength="24.8" lengthAdjust="spacingAndGlyphs">550</text>
<text x="249.6" y="441.2" text-anchor="middle" textLength="24.8" lengthAdjust="spacingAndGlyphs">600</text>
<text x="329.9" y="441.2" text-anchor="middle" textLength="24.8" lengthAdjust="spacingAndGlyphs">650</text>
<text x="410.1" y="441.2" text-anchor="middle" textLength="24.8" lengthAdjust="spacingAndGlyphs">700</text>
<text x="490.4" y="441.2" text-anchor="middle" textLength="24.8" lengthAdjust="spacingAndGlyphs">750</text>
</g>
<text transform="translate(25.9 292.8) rotate(-90)" font-family="'Liberation Sans', Arial, Helvetica, sans-serif" font-weight="bold" font-size="19" fill="#000" textLength="178.6" lengthAdjust="spacingAndGlyphs">Absorbance (O.D)</text>
<text x="238.2" y="474.3" font-family="'Liberation Sans', Arial, Helvetica, sans-serif" font-weight="bold" font-size="18.9" fill="#000" textLength="150.8" lengthAdjust="spacingAndGlyphs">Wavelength (nm)</text>
<text x="268.2" y="507.6" font-family="'Liberation Serif', 'Times New Roman', serif" font-size="20.2" fill="#111" textLength="25.8" lengthAdjust="spacingAndGlyphs">(<tspan font-weight="bold">B</tspan>)</text>
<g font-family="'Liberation Sans', Arial, Helvetica, sans-serif" font-weight="bold" font-size="14.2" fill="#000" stroke="#000" stroke-width="0.25" text-anchor="middle">
<text x="264.2" y="61.6" textLength="19.8" lengthAdjust="spacingAndGlyphs">609</text>
<text x="293.95" y="124.5" textLength="19.7" lengthAdjust="spacingAndGlyphs">624</text>
<text x="344.3" y="78.5" textLength="19.6" lengthAdjust="spacingAndGlyphs">660</text>
<text x="375.05" y="43.1" textLength="19.7" lengthAdjust="spacingAndGlyphs">678</text>
</g>
<g fill="#000" stroke="#777" stroke-width="0.7">
<path d="M260.7 63.6 L261.4 66.2" fill="none"/><path d="M258.7 66.4 L263.7 65.6 L262.3 76.4 Z" stroke="none"/>
<path d="M292.1 128.6 L292.3 131.4" fill="none"/><path d="M289.6 131.8 L294.2 131.1 L289.9 140.6 Z" stroke="none"/>
<path d="M344.5 78.8 L344.5 81.6" fill="none"/><path d="M341.8 81.4 L347.0 81.4 L344.5 91.8 Z" stroke="none"/>
<path d="M375.4 44.4 L375.4 49.5" fill="none" stroke="#aaa"/><path d="M373.2 49.3 L377.8 49.3 L375.5 58.4 Z" stroke="none"/>
<path d="M251.5 206.8 L262.6 166.5" fill="none" stroke="#333" stroke-width="0.8"/><path d="M264.5 159.6 L265.2 170.0 L259.7 168.4 Z" stroke="none"/>
<path d="M415.2 222.2 L409.4 156" fill="none" stroke="#333" stroke-width="0.8"/><path d="M408.4 146.6 L412.3 157.0 L406.4 157.5 Z" stroke="none"/>
</g>
<rect x="440.3" y="71.3" width="87.2" height="167" fill="#fff" stroke="#333" stroke-width="0.9"/>
<g font-family="'Liberation Sans', Arial, Helvetica, sans-serif" font-size="12.7" fill="#111" stroke="#111" stroke-width="0.2">
<path d="M441.6 81.3 H469.3" stroke="#555555" stroke-width="2" fill="none"/>
<text x="472.4" y="85.2" textLength="53.4" lengthAdjust="spacingAndGlyphs">Free Drug</text>
<path d="M441.6 97.7 H469.3" stroke="#ff0000" stroke-width="2" fill="none"/>
<text x="472.4" y="101.7" textLength="50.4" lengthAdjust="spacingAndGlyphs">D/N = 7.0</text>
<path d="M441.6 114.1 H469.3" stroke="#0000ff" stroke-width="2" fill="none"/>
<text x="472.4" y="118.1" textLength="50.4" lengthAdjust="spacingAndGlyphs">D/N = 5.0</text>
<path d="M441.6 130.5 H469.3" stroke="#ff00ff" stroke-width="2" fill="none"/>
<text x="472.4" y="134.6" textLength="50.4" lengthAdjust="spacingAndGlyphs">D/N = 3.5</text>
<path d="M441.6 146.9 H469.3" stroke="#00cc00" stroke-width="2" fill="none"/>
<text x="472.4" y="151.0" textLength="50.4" lengthAdjust="spacingAndGlyphs">D/N = 2.9</text>
<path d="M441.6 163.3 H469.3" stroke="#daa520" stroke-width="2" fill="none"/>
<text x="472.4" y="167.5" textLength="50.4" lengthAdjust="spacingAndGlyphs">D/N = 2.5</text>
<path d="M441.6 179.8 H469.3" stroke="#7f00ff" stroke-width="2" fill="none"/>
<text x="472.4" y="184.0" textLength="50.4" lengthAdjust="spacingAndGlyphs">D/N = 2.0</text>
<path d="M441.6 196.2 H469.3" stroke="#008000" stroke-width="2" fill="none"/>
<text x="472.4" y="200.4" textLength="50.4" lengthAdjust="spacingAndGlyphs">D/N = 1.5</text>
<path d="M441.6 212.6 H469.3" stroke="#00ffff" stroke-width="2" fill="none"/>
<text x="472.4" y="216.9" textLength="50.4" lengthAdjust="spacingAndGlyphs">D/N = 1.0</text>
<path d="M441.6 229.0 H469.3" stroke="#800000" stroke-width="2" fill="none"/>
<text x="472.4" y="233.3" textLength="50.4" lengthAdjust="spacingAndGlyphs">D/N = 0.5</text>
</g>
</svg>
</body>
</html>
